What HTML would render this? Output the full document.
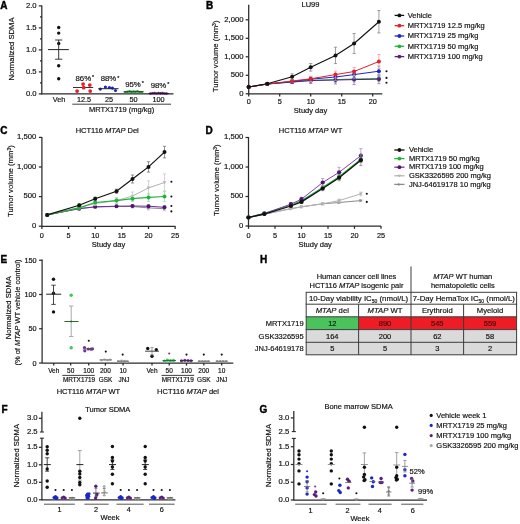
<!DOCTYPE html>
<html><head><meta charset="utf-8"><style>
html,body{margin:0;padding:0;background:#fff;}
body{width:520px;height:524px;overflow:hidden;}
svg{display:block;font-family:"Liberation Sans", Arial, Helvetica, sans-serif;}
text{stroke:#111;stroke-width:0.18px;}
</style></head><body>
<svg width="520" height="524" viewBox="0 0 520 524" fill="#121212">
<rect width="520" height="524" fill="#fff"/>
<text x="0.30" y="8.70" font-size="10" font-weight="bold" style="stroke:#000;stroke-width:0.4px" fill="#000">A</text>
<line x1="41.80" y1="5.40" x2="41.80" y2="94.40" stroke="#2a2a2a" stroke-width="1.25"/>
<line x1="38.80" y1="93.90" x2="41.80" y2="93.90" stroke="#2a2a2a" stroke-width="1.25"/>
<text x="36.60" y="95.77" font-size="7.7" text-anchor="end">0.0</text>
<line x1="38.80" y1="71.90" x2="41.80" y2="71.90" stroke="#2a2a2a" stroke-width="1.25"/>
<text x="36.60" y="73.77" font-size="7.7" text-anchor="end">0.5</text>
<line x1="38.80" y1="49.90" x2="41.80" y2="49.90" stroke="#2a2a2a" stroke-width="1.25"/>
<text x="36.60" y="51.77" font-size="7.7" text-anchor="end">1.0</text>
<line x1="38.80" y1="27.90" x2="41.80" y2="27.90" stroke="#2a2a2a" stroke-width="1.25"/>
<text x="36.60" y="29.77" font-size="7.7" text-anchor="end">1.5</text>
<line x1="38.80" y1="5.90" x2="41.80" y2="5.90" stroke="#2a2a2a" stroke-width="1.25"/>
<text x="36.60" y="7.77" font-size="7.7" text-anchor="end">2.0</text>
<line x1="40.00" y1="82.90" x2="41.80" y2="82.90" stroke="#2a2a2a" stroke-width="1.25"/>
<line x1="40.00" y1="60.90" x2="41.80" y2="60.90" stroke="#2a2a2a" stroke-width="1.25"/>
<line x1="40.00" y1="38.90" x2="41.80" y2="38.90" stroke="#2a2a2a" stroke-width="1.25"/>
<line x1="40.00" y1="16.90" x2="41.80" y2="16.90" stroke="#2a2a2a" stroke-width="1.25"/>
<text x="0" y="0" font-size="7.7" text-anchor="middle" transform="translate(11.20,49.00) rotate(-90) translate(0,2.32)">Normalized SDMA</text>
<line x1="41.80" y1="93.90" x2="173.50" y2="93.90" stroke="#2a2a2a" stroke-width="1.25"/>
<text x="59.00" y="102.48" font-size="7.3" text-anchor="middle">Veh</text>
<text x="84.00" y="102.48" font-size="7.3" text-anchor="middle">12.5</text>
<text x="109.00" y="102.48" font-size="7.3" text-anchor="middle">25</text>
<text x="133.50" y="102.48" font-size="7.3" text-anchor="middle">50</text>
<text x="158.50" y="102.48" font-size="7.3" text-anchor="middle">100</text>
<line x1="72.30" y1="104.20" x2="171.00" y2="104.20" stroke="#2a2a2a" stroke-width="0.9"/>
<text x="121.60" y="112.25" font-size="7.5" text-anchor="middle">MRTX1719 (mg/kg)</text>
<circle cx="58.70" cy="27.50" r="1.7" fill="#111111"/>
<circle cx="58.70" cy="33.10" r="1.7" fill="#111111"/>
<circle cx="58.70" cy="43.50" r="1.7" fill="#111111"/>
<circle cx="58.70" cy="65.80" r="1.7" fill="#111111"/>
<circle cx="58.70" cy="78.80" r="1.7" fill="#111111"/>
<line x1="48.00" y1="49.60" x2="68.80" y2="49.60" stroke="#222" stroke-width="1.0"/>
<line x1="58.70" y1="40.00" x2="58.70" y2="59.20" stroke="#222" stroke-width="0.9"/>
<line x1="55.10" y1="40.00" x2="62.30" y2="40.00" stroke="#222" stroke-width="0.9"/>
<line x1="55.10" y1="59.20" x2="62.30" y2="59.20" stroke="#222" stroke-width="0.9"/>
<line x1="73.00" y1="87.50" x2="93.20" y2="87.50" stroke="#333" stroke-width="1.0"/>
<circle cx="77.10" cy="91.10" r="1.9" fill="#e3202b"/>
<circle cx="83.10" cy="84.10" r="1.9" fill="#e3202b"/>
<circle cx="83.70" cy="87.70" r="1.9" fill="#e3202b"/>
<circle cx="89.80" cy="85.10" r="1.9" fill="#e3202b"/>
<circle cx="90.20" cy="91.10" r="1.9" fill="#e3202b"/>
<circle cx="100.30" cy="89.10" r="1.6" fill="#1a26cc"/>
<circle cx="105.40" cy="87.10" r="1.6" fill="#1a26cc"/>
<circle cx="109.40" cy="87.50" r="1.6" fill="#1a26cc"/>
<circle cx="112.40" cy="88.10" r="1.6" fill="#1a26cc"/>
<circle cx="115.50" cy="90.50" r="1.6" fill="#1a26cc"/>
<line x1="98.30" y1="88.70" x2="118.50" y2="88.70" stroke="#223" stroke-width="1.0"/>
<circle cx="125.50" cy="92.30" r="1.3" fill="#22b23c"/>
<circle cx="127.50" cy="91.80" r="1.3" fill="#22b23c"/>
<circle cx="129.50" cy="91.20" r="1.3" fill="#22b23c"/>
<circle cx="131.50" cy="91.90" r="1.3" fill="#22b23c"/>
<circle cx="133.50" cy="91.50" r="1.3" fill="#22b23c"/>
<circle cx="135.50" cy="91.80" r="1.3" fill="#22b23c"/>
<circle cx="137.50" cy="91.30" r="1.3" fill="#22b23c"/>
<circle cx="139.50" cy="92.00" r="1.3" fill="#22b23c"/>
<circle cx="141.50" cy="92.20" r="1.3" fill="#22b23c"/>
<line x1="123.50" y1="91.80" x2="143.70" y2="91.80" stroke="#232" stroke-width="1.0"/>
<circle cx="150.50" cy="93.60" r="1.3" fill="#5a1f7e"/>
<circle cx="152.50" cy="93.30" r="1.3" fill="#5a1f7e"/>
<circle cx="154.50" cy="93.10" r="1.3" fill="#5a1f7e"/>
<circle cx="156.50" cy="93.50" r="1.3" fill="#5a1f7e"/>
<circle cx="158.50" cy="93.00" r="1.3" fill="#5a1f7e"/>
<circle cx="160.50" cy="93.40" r="1.3" fill="#5a1f7e"/>
<circle cx="162.50" cy="93.10" r="1.3" fill="#5a1f7e"/>
<circle cx="164.50" cy="93.50" r="1.3" fill="#5a1f7e"/>
<circle cx="166.50" cy="93.60" r="1.3" fill="#5a1f7e"/>
<line x1="148.50" y1="93.50" x2="169.00" y2="93.50" stroke="#312" stroke-width="1.0"/>
<text x="84.80" y="80.56" font-size="7.8" text-anchor="middle">86%<tspan font-size="5.5" dx="0.9" dy="-1.6">*</tspan></text>
<text x="110.00" y="81.36" font-size="7.8" text-anchor="middle">88%<tspan font-size="5.5" dx="0.9" dy="-1.6">*</tspan></text>
<text x="134.50" y="86.56" font-size="7.8" text-anchor="middle">95%<tspan font-size="5.5" dx="0.9" dy="-1.6">*</tspan></text>
<text x="160.00" y="87.96" font-size="7.8" text-anchor="middle">98%<tspan font-size="5.5" dx="0.9" dy="-1.6">*</tspan></text>
<text x="206.00" y="8.70" font-size="10" font-weight="bold" style="stroke:#000;stroke-width:0.4px" fill="#000">B</text>
<line x1="248.70" y1="4.80" x2="248.70" y2="94.30" stroke="#2a2a2a" stroke-width="1.25"/>
<line x1="245.70" y1="93.80" x2="248.70" y2="93.80" stroke="#2a2a2a" stroke-width="1.25"/>
<text x="243.50" y="95.67" font-size="7.7" text-anchor="end">0</text>
<line x1="245.70" y1="75.30" x2="248.70" y2="75.30" stroke="#2a2a2a" stroke-width="1.25"/>
<text x="243.50" y="77.17" font-size="7.7" text-anchor="end">500</text>
<line x1="245.70" y1="56.80" x2="248.70" y2="56.80" stroke="#2a2a2a" stroke-width="1.25"/>
<text x="243.50" y="58.67" font-size="7.7" text-anchor="end">1,000</text>
<line x1="245.70" y1="38.30" x2="248.70" y2="38.30" stroke="#2a2a2a" stroke-width="1.25"/>
<text x="243.50" y="40.17" font-size="7.7" text-anchor="end">1,500</text>
<line x1="245.70" y1="19.80" x2="248.70" y2="19.80" stroke="#2a2a2a" stroke-width="1.25"/>
<text x="243.50" y="21.67" font-size="7.7" text-anchor="end">2,000</text>
<text x="0" y="0" font-size="7.7" text-anchor="middle" transform="translate(216.10,56.40) rotate(-90) translate(0,2.32)">Tumor volume (mm<tspan font-size="5" dy="-2.5">3</tspan><tspan dy="2.5">)</tspan></text>
<line x1="248.70" y1="93.80" x2="382.30" y2="93.80" stroke="#2a2a2a" stroke-width="1.25"/>
<line x1="248.70" y1="93.80" x2="248.70" y2="96.60" stroke="#2a2a2a" stroke-width="1.25"/>
<text x="248.70" y="103.88" font-size="7.3" text-anchor="middle">0</text>
<line x1="279.70" y1="93.80" x2="279.70" y2="96.60" stroke="#2a2a2a" stroke-width="1.25"/>
<text x="279.70" y="103.88" font-size="7.3" text-anchor="middle">5</text>
<line x1="310.70" y1="93.80" x2="310.70" y2="96.60" stroke="#2a2a2a" stroke-width="1.25"/>
<text x="310.70" y="103.88" font-size="7.3" text-anchor="middle">10</text>
<line x1="341.70" y1="93.80" x2="341.70" y2="96.60" stroke="#2a2a2a" stroke-width="1.25"/>
<text x="341.70" y="103.88" font-size="7.3" text-anchor="middle">15</text>
<line x1="372.70" y1="93.80" x2="372.70" y2="96.60" stroke="#2a2a2a" stroke-width="1.25"/>
<text x="372.70" y="103.88" font-size="7.3" text-anchor="middle">20</text>
<text x="310.50" y="112.55" font-size="7.5" text-anchor="middle">Study day</text>
<text x="310.50" y="6.65" font-size="7.5" text-anchor="middle">LU99</text>
<line x1="292.10" y1="80.50" x2="292.10" y2="83.50" stroke="#8ac08a" stroke-width="0.8"/>
<line x1="290.50" y1="80.50" x2="293.70" y2="80.50" stroke="#8ac08a" stroke-width="0.8"/>
<line x1="290.50" y1="83.50" x2="293.70" y2="83.50" stroke="#8ac08a" stroke-width="0.8"/>
<line x1="310.70" y1="78.00" x2="310.70" y2="83.00" stroke="#8ac08a" stroke-width="0.8"/>
<line x1="309.10" y1="78.00" x2="312.30" y2="78.00" stroke="#8ac08a" stroke-width="0.8"/>
<line x1="309.10" y1="83.00" x2="312.30" y2="83.00" stroke="#8ac08a" stroke-width="0.8"/>
<line x1="335.50" y1="76.60" x2="335.50" y2="82.60" stroke="#8ac08a" stroke-width="0.8"/>
<line x1="333.90" y1="76.60" x2="337.10" y2="76.60" stroke="#8ac08a" stroke-width="0.8"/>
<line x1="333.90" y1="82.60" x2="337.10" y2="82.60" stroke="#8ac08a" stroke-width="0.8"/>
<line x1="354.10" y1="76.00" x2="354.10" y2="82.00" stroke="#8ac08a" stroke-width="0.8"/>
<line x1="352.50" y1="76.00" x2="355.70" y2="76.00" stroke="#8ac08a" stroke-width="0.8"/>
<line x1="352.50" y1="82.00" x2="355.70" y2="82.00" stroke="#8ac08a" stroke-width="0.8"/>
<line x1="378.90" y1="75.50" x2="378.90" y2="81.50" stroke="#8ac08a" stroke-width="0.8"/>
<line x1="377.30" y1="75.50" x2="380.50" y2="75.50" stroke="#8ac08a" stroke-width="0.8"/>
<line x1="377.30" y1="81.50" x2="380.50" y2="81.50" stroke="#8ac08a" stroke-width="0.8"/>
<polyline points="248.70,87.00 267.30,84.00 292.10,82.00 310.70,80.50 335.50,79.60 354.10,79.00 378.90,78.50" fill="none" stroke="#22b23c" stroke-width="1.0"/>
<circle cx="248.70" cy="87.00" r="2.0" fill="#22b23c"/>
<circle cx="267.30" cy="84.00" r="2.0" fill="#22b23c"/>
<circle cx="292.10" cy="82.00" r="2.0" fill="#22b23c"/>
<circle cx="310.70" cy="80.50" r="2.0" fill="#22b23c"/>
<circle cx="335.50" cy="79.60" r="2.0" fill="#22b23c"/>
<circle cx="354.10" cy="79.00" r="2.0" fill="#22b23c"/>
<circle cx="378.90" cy="78.50" r="2.0" fill="#22b23c"/>
<line x1="292.10" y1="80.50" x2="292.10" y2="83.50" stroke="#9a7aaa" stroke-width="0.8"/>
<line x1="290.50" y1="80.50" x2="293.70" y2="80.50" stroke="#9a7aaa" stroke-width="0.8"/>
<line x1="290.50" y1="83.50" x2="293.70" y2="83.50" stroke="#9a7aaa" stroke-width="0.8"/>
<line x1="310.70" y1="77.50" x2="310.70" y2="83.50" stroke="#9a7aaa" stroke-width="0.8"/>
<line x1="309.10" y1="77.50" x2="312.30" y2="77.50" stroke="#9a7aaa" stroke-width="0.8"/>
<line x1="309.10" y1="83.50" x2="312.30" y2="83.50" stroke="#9a7aaa" stroke-width="0.8"/>
<line x1="335.50" y1="76.00" x2="335.50" y2="84.00" stroke="#9a7aaa" stroke-width="0.8"/>
<line x1="333.90" y1="76.00" x2="337.10" y2="76.00" stroke="#9a7aaa" stroke-width="0.8"/>
<line x1="333.90" y1="84.00" x2="337.10" y2="84.00" stroke="#9a7aaa" stroke-width="0.8"/>
<line x1="354.10" y1="74.60" x2="354.10" y2="84.60" stroke="#9a7aaa" stroke-width="0.8"/>
<line x1="352.50" y1="74.60" x2="355.70" y2="74.60" stroke="#9a7aaa" stroke-width="0.8"/>
<line x1="352.50" y1="84.60" x2="355.70" y2="84.60" stroke="#9a7aaa" stroke-width="0.8"/>
<line x1="378.90" y1="74.70" x2="378.90" y2="83.70" stroke="#9a7aaa" stroke-width="0.8"/>
<line x1="377.30" y1="74.70" x2="380.50" y2="74.70" stroke="#9a7aaa" stroke-width="0.8"/>
<line x1="377.30" y1="83.70" x2="380.50" y2="83.70" stroke="#9a7aaa" stroke-width="0.8"/>
<polyline points="248.70,87.00 267.30,84.00 292.10,82.00 310.70,80.50 335.50,80.00 354.10,79.60 378.90,79.20" fill="none" stroke="#5a1f7e" stroke-width="1.0"/>
<circle cx="248.70" cy="87.00" r="2.0" fill="#5a1f7e"/>
<circle cx="267.30" cy="84.00" r="2.0" fill="#5a1f7e"/>
<circle cx="292.10" cy="82.00" r="2.0" fill="#5a1f7e"/>
<circle cx="310.70" cy="80.50" r="2.0" fill="#5a1f7e"/>
<circle cx="335.50" cy="80.00" r="2.0" fill="#5a1f7e"/>
<circle cx="354.10" cy="79.60" r="2.0" fill="#5a1f7e"/>
<circle cx="378.90" cy="79.20" r="2.0" fill="#5a1f7e"/>
<line x1="292.10" y1="80.00" x2="292.10" y2="83.00" stroke="#8a8ae0" stroke-width="0.8"/>
<line x1="290.50" y1="80.00" x2="293.70" y2="80.00" stroke="#8a8ae0" stroke-width="0.8"/>
<line x1="290.50" y1="83.00" x2="293.70" y2="83.00" stroke="#8a8ae0" stroke-width="0.8"/>
<line x1="310.70" y1="76.70" x2="310.70" y2="81.70" stroke="#8a8ae0" stroke-width="0.8"/>
<line x1="309.10" y1="76.70" x2="312.30" y2="76.70" stroke="#8a8ae0" stroke-width="0.8"/>
<line x1="309.10" y1="81.70" x2="312.30" y2="81.70" stroke="#8a8ae0" stroke-width="0.8"/>
<line x1="335.50" y1="73.50" x2="335.50" y2="80.50" stroke="#8a8ae0" stroke-width="0.8"/>
<line x1="333.90" y1="73.50" x2="337.10" y2="73.50" stroke="#8a8ae0" stroke-width="0.8"/>
<line x1="333.90" y1="80.50" x2="337.10" y2="80.50" stroke="#8a8ae0" stroke-width="0.8"/>
<line x1="354.10" y1="70.60" x2="354.10" y2="78.60" stroke="#8a8ae0" stroke-width="0.8"/>
<line x1="352.50" y1="70.60" x2="355.70" y2="70.60" stroke="#8a8ae0" stroke-width="0.8"/>
<line x1="352.50" y1="78.60" x2="355.70" y2="78.60" stroke="#8a8ae0" stroke-width="0.8"/>
<line x1="378.90" y1="66.20" x2="378.90" y2="76.20" stroke="#8a8ae0" stroke-width="0.8"/>
<line x1="377.30" y1="66.20" x2="380.50" y2="66.20" stroke="#8a8ae0" stroke-width="0.8"/>
<line x1="377.30" y1="76.20" x2="380.50" y2="76.20" stroke="#8a8ae0" stroke-width="0.8"/>
<polyline points="248.70,87.00 267.30,84.00 292.10,81.50 310.70,79.20 335.50,77.00 354.10,74.60 378.90,71.20" fill="none" stroke="#1a26cc" stroke-width="1.0"/>
<circle cx="248.70" cy="87.00" r="2.0" fill="#1a26cc"/>
<circle cx="267.30" cy="84.00" r="2.0" fill="#1a26cc"/>
<circle cx="292.10" cy="81.50" r="2.0" fill="#1a26cc"/>
<circle cx="310.70" cy="79.20" r="2.0" fill="#1a26cc"/>
<circle cx="335.50" cy="77.00" r="2.0" fill="#1a26cc"/>
<circle cx="354.10" cy="74.60" r="2.0" fill="#1a26cc"/>
<circle cx="378.90" cy="71.20" r="2.0" fill="#1a26cc"/>
<line x1="292.10" y1="79.50" x2="292.10" y2="82.50" stroke="#f0a0a0" stroke-width="0.8"/>
<line x1="290.50" y1="79.50" x2="293.70" y2="79.50" stroke="#f0a0a0" stroke-width="0.8"/>
<line x1="290.50" y1="82.50" x2="293.70" y2="82.50" stroke="#f0a0a0" stroke-width="0.8"/>
<line x1="310.70" y1="76.30" x2="310.70" y2="81.30" stroke="#f0a0a0" stroke-width="0.8"/>
<line x1="309.10" y1="76.30" x2="312.30" y2="76.30" stroke="#f0a0a0" stroke-width="0.8"/>
<line x1="309.10" y1="81.30" x2="312.30" y2="81.30" stroke="#f0a0a0" stroke-width="0.8"/>
<line x1="335.50" y1="71.10" x2="335.50" y2="78.10" stroke="#f0a0a0" stroke-width="0.8"/>
<line x1="333.90" y1="71.10" x2="337.10" y2="71.10" stroke="#f0a0a0" stroke-width="0.8"/>
<line x1="333.90" y1="78.10" x2="337.10" y2="78.10" stroke="#f0a0a0" stroke-width="0.8"/>
<line x1="354.10" y1="67.50" x2="354.10" y2="75.50" stroke="#f0a0a0" stroke-width="0.8"/>
<line x1="352.50" y1="67.50" x2="355.70" y2="67.50" stroke="#f0a0a0" stroke-width="0.8"/>
<line x1="352.50" y1="75.50" x2="355.70" y2="75.50" stroke="#f0a0a0" stroke-width="0.8"/>
<line x1="378.90" y1="54.50" x2="378.90" y2="68.50" stroke="#f0a0a0" stroke-width="0.8"/>
<line x1="377.30" y1="54.50" x2="380.50" y2="54.50" stroke="#f0a0a0" stroke-width="0.8"/>
<line x1="377.30" y1="68.50" x2="380.50" y2="68.50" stroke="#f0a0a0" stroke-width="0.8"/>
<polyline points="248.70,87.00 267.30,84.00 292.10,81.00 310.70,78.80 335.50,74.60 354.10,71.50 378.90,61.50" fill="none" stroke="#e3202b" stroke-width="1.0"/>
<circle cx="248.70" cy="87.00" r="2.0" fill="#e3202b"/>
<circle cx="267.30" cy="84.00" r="2.0" fill="#e3202b"/>
<circle cx="292.10" cy="81.00" r="2.0" fill="#e3202b"/>
<circle cx="310.70" cy="78.80" r="2.0" fill="#e3202b"/>
<circle cx="335.50" cy="74.60" r="2.0" fill="#e3202b"/>
<circle cx="354.10" cy="71.50" r="2.0" fill="#e3202b"/>
<circle cx="378.90" cy="61.50" r="2.0" fill="#e3202b"/>
<line x1="267.30" y1="82.80" x2="267.30" y2="84.80" stroke="#888888" stroke-width="0.8"/>
<line x1="265.70" y1="82.80" x2="268.90" y2="82.80" stroke="#888888" stroke-width="0.8"/>
<line x1="265.70" y1="84.80" x2="268.90" y2="84.80" stroke="#888888" stroke-width="0.8"/>
<line x1="292.10" y1="73.80" x2="292.10" y2="79.80" stroke="#888888" stroke-width="0.8"/>
<line x1="290.50" y1="73.80" x2="293.70" y2="73.80" stroke="#888888" stroke-width="0.8"/>
<line x1="290.50" y1="79.80" x2="293.70" y2="79.80" stroke="#888888" stroke-width="0.8"/>
<line x1="310.70" y1="63.50" x2="310.70" y2="71.10" stroke="#888888" stroke-width="0.8"/>
<line x1="309.10" y1="63.50" x2="312.30" y2="63.50" stroke="#888888" stroke-width="0.8"/>
<line x1="309.10" y1="71.10" x2="312.30" y2="71.10" stroke="#888888" stroke-width="0.8"/>
<line x1="335.50" y1="47.20" x2="335.50" y2="63.60" stroke="#888888" stroke-width="0.8"/>
<line x1="333.90" y1="47.20" x2="337.10" y2="47.20" stroke="#888888" stroke-width="0.8"/>
<line x1="333.90" y1="63.60" x2="337.10" y2="63.60" stroke="#888888" stroke-width="0.8"/>
<line x1="354.10" y1="33.50" x2="354.10" y2="53.50" stroke="#888888" stroke-width="0.8"/>
<line x1="352.50" y1="33.50" x2="355.70" y2="33.50" stroke="#888888" stroke-width="0.8"/>
<line x1="352.50" y1="53.50" x2="355.70" y2="53.50" stroke="#888888" stroke-width="0.8"/>
<line x1="378.90" y1="10.50" x2="378.90" y2="32.90" stroke="#888888" stroke-width="0.8"/>
<line x1="377.30" y1="10.50" x2="380.50" y2="10.50" stroke="#888888" stroke-width="0.8"/>
<line x1="377.30" y1="32.90" x2="380.50" y2="32.90" stroke="#888888" stroke-width="0.8"/>
<polyline points="248.70,87.00 267.30,83.80 292.10,76.80 310.70,67.30 335.50,55.40 354.10,43.50 378.90,21.70" fill="none" stroke="#111111" stroke-width="1.15"/>
<circle cx="248.70" cy="87.00" r="2.0" fill="#111111"/>
<circle cx="267.30" cy="83.80" r="2.0" fill="#111111"/>
<circle cx="292.10" cy="76.80" r="2.0" fill="#111111"/>
<circle cx="310.70" cy="67.30" r="2.0" fill="#111111"/>
<circle cx="335.50" cy="55.40" r="2.0" fill="#111111"/>
<circle cx="354.10" cy="43.50" r="2.0" fill="#111111"/>
<circle cx="378.90" cy="21.70" r="2.0" fill="#111111"/>
<circle cx="386.50" cy="71.20" r="1.05" fill="#111"/>
<circle cx="386.50" cy="77.90" r="1.05" fill="#111"/>
<circle cx="386.50" cy="82.70" r="1.05" fill="#111"/>
<line x1="394.60" y1="15.40" x2="404.20" y2="15.40" stroke="#111111" stroke-width="1.3"/>
<circle cx="399.40" cy="15.40" r="1.9" fill="#111111"/>
<text x="407.70" y="17.65" font-size="7.5">Vehicle</text>
<line x1="394.60" y1="25.70" x2="404.20" y2="25.70" stroke="#e3202b" stroke-width="1.3"/>
<circle cx="399.40" cy="25.70" r="1.9" fill="#e3202b"/>
<text x="407.70" y="27.95" font-size="7.5">MRTX1719 12.5 mg/kg</text>
<line x1="394.60" y1="36.00" x2="404.20" y2="36.00" stroke="#1a26cc" stroke-width="1.3"/>
<circle cx="399.40" cy="36.00" r="1.9" fill="#1a26cc"/>
<text x="407.70" y="38.25" font-size="7.5">MRTX1719 25 mg/kg</text>
<line x1="394.60" y1="46.30" x2="404.20" y2="46.30" stroke="#22b23c" stroke-width="1.3"/>
<circle cx="399.40" cy="46.30" r="1.9" fill="#22b23c"/>
<text x="407.70" y="48.55" font-size="7.5">MRTX1719 50 mg/kg</text>
<line x1="394.60" y1="56.60" x2="404.20" y2="56.60" stroke="#5a1f7e" stroke-width="1.3"/>
<circle cx="399.40" cy="56.60" r="1.9" fill="#5a1f7e"/>
<text x="407.70" y="58.85" font-size="7.5">MRTX1719 100 mg/kg</text>
<text x="0.30" y="134.20" font-size="10" font-weight="bold" style="stroke:#000;stroke-width:0.4px" fill="#000">C</text>
<line x1="41.90" y1="137.00" x2="41.90" y2="226.70" stroke="#2a2a2a" stroke-width="1.25"/>
<line x1="38.90" y1="226.20" x2="41.90" y2="226.20" stroke="#2a2a2a" stroke-width="1.25"/>
<text x="36.30" y="228.07" font-size="7.7" text-anchor="end">0</text>
<line x1="38.90" y1="196.60" x2="41.90" y2="196.60" stroke="#2a2a2a" stroke-width="1.25"/>
<text x="36.30" y="198.47" font-size="7.7" text-anchor="end">500</text>
<line x1="38.90" y1="167.00" x2="41.90" y2="167.00" stroke="#2a2a2a" stroke-width="1.25"/>
<text x="36.30" y="168.87" font-size="7.7" text-anchor="end">1,000</text>
<line x1="38.90" y1="137.40" x2="41.90" y2="137.40" stroke="#2a2a2a" stroke-width="1.25"/>
<text x="36.30" y="139.27" font-size="7.7" text-anchor="end">1,500</text>
<text x="0" y="0" font-size="7.7" text-anchor="middle" transform="translate(11.00,181.10) rotate(-90) translate(0,2.32)">Tumor volume (mm<tspan font-size="5" dy="-2.5">3</tspan><tspan dy="2.5">)</tspan></text>
<line x1="41.90" y1="226.25" x2="175.40" y2="226.25" stroke="#2a2a2a" stroke-width="1.25"/>
<line x1="41.90" y1="226.20" x2="41.90" y2="229.00" stroke="#2a2a2a" stroke-width="1.25"/>
<text x="41.90" y="237.98" font-size="7.3" text-anchor="middle">0</text>
<line x1="68.55" y1="226.20" x2="68.55" y2="229.00" stroke="#2a2a2a" stroke-width="1.25"/>
<text x="68.55" y="237.98" font-size="7.3" text-anchor="middle">5</text>
<line x1="95.20" y1="226.20" x2="95.20" y2="229.00" stroke="#2a2a2a" stroke-width="1.25"/>
<text x="95.20" y="237.98" font-size="7.3" text-anchor="middle">10</text>
<line x1="121.85" y1="226.20" x2="121.85" y2="229.00" stroke="#2a2a2a" stroke-width="1.25"/>
<text x="121.85" y="237.98" font-size="7.3" text-anchor="middle">15</text>
<line x1="148.50" y1="226.20" x2="148.50" y2="229.00" stroke="#2a2a2a" stroke-width="1.25"/>
<text x="148.50" y="237.98" font-size="7.3" text-anchor="middle">20</text>
<line x1="175.15" y1="226.20" x2="175.15" y2="229.00" stroke="#2a2a2a" stroke-width="1.25"/>
<text x="175.15" y="237.98" font-size="7.3" text-anchor="middle">25</text>
<text x="108.50" y="247.45" font-size="7.5" text-anchor="middle">Study day</text>
<text x="107.20" y="133.45" font-size="7.5" text-anchor="middle">HCT116 <tspan font-style="italic">MTAP</tspan> Del</text>
<line x1="79.21" y1="207.50" x2="79.21" y2="209.50" stroke="#bbbbbb" stroke-width="0.8"/>
<line x1="77.61" y1="207.50" x2="80.81" y2="207.50" stroke="#bbbbbb" stroke-width="0.8"/>
<line x1="77.61" y1="209.50" x2="80.81" y2="209.50" stroke="#bbbbbb" stroke-width="0.8"/>
<line x1="95.20" y1="206.00" x2="95.20" y2="208.00" stroke="#bbbbbb" stroke-width="0.8"/>
<line x1="93.60" y1="206.00" x2="96.80" y2="206.00" stroke="#bbbbbb" stroke-width="0.8"/>
<line x1="93.60" y1="208.00" x2="96.80" y2="208.00" stroke="#bbbbbb" stroke-width="0.8"/>
<line x1="116.52" y1="205.50" x2="116.52" y2="207.50" stroke="#bbbbbb" stroke-width="0.8"/>
<line x1="114.92" y1="205.50" x2="118.12" y2="205.50" stroke="#bbbbbb" stroke-width="0.8"/>
<line x1="114.92" y1="207.50" x2="118.12" y2="207.50" stroke="#bbbbbb" stroke-width="0.8"/>
<line x1="132.51" y1="205.00" x2="132.51" y2="208.00" stroke="#bbbbbb" stroke-width="0.8"/>
<line x1="130.91" y1="205.00" x2="134.11" y2="205.00" stroke="#bbbbbb" stroke-width="0.8"/>
<line x1="130.91" y1="208.00" x2="134.11" y2="208.00" stroke="#bbbbbb" stroke-width="0.8"/>
<line x1="148.50" y1="205.90" x2="148.50" y2="209.90" stroke="#bbbbbb" stroke-width="0.8"/>
<line x1="146.90" y1="205.90" x2="150.10" y2="205.90" stroke="#bbbbbb" stroke-width="0.8"/>
<line x1="146.90" y1="209.90" x2="150.10" y2="209.90" stroke="#bbbbbb" stroke-width="0.8"/>
<line x1="164.49" y1="206.70" x2="164.49" y2="210.70" stroke="#bbbbbb" stroke-width="0.8"/>
<line x1="162.89" y1="206.70" x2="166.09" y2="206.70" stroke="#bbbbbb" stroke-width="0.8"/>
<line x1="162.89" y1="210.70" x2="166.09" y2="210.70" stroke="#bbbbbb" stroke-width="0.8"/>
<polyline points="47.23,214.90 79.21,208.50 95.20,207.00 116.52,206.50 132.51,206.50 148.50,207.90 164.49,208.70" fill="none" stroke="#8a8a8a" stroke-width="1.0"/>
<path d="M45.87,213.20 L48.93,214.90 L45.87,216.60 Z" fill="#8a8a8a"/>
<path d="M77.85,206.80 L80.91,208.50 L77.85,210.20 Z" fill="#8a8a8a"/>
<path d="M93.84,205.30 L96.90,207.00 L93.84,208.70 Z" fill="#8a8a8a"/>
<path d="M115.16,204.80 L118.22,206.50 L115.16,208.20 Z" fill="#8a8a8a"/>
<path d="M131.15,204.80 L134.21,206.50 L131.15,208.20 Z" fill="#8a8a8a"/>
<path d="M147.14,206.20 L150.20,207.90 L147.14,209.60 Z" fill="#8a8a8a"/>
<path d="M163.13,207.00 L166.19,208.70 L163.13,210.40 Z" fill="#8a8a8a"/>
<line x1="79.21" y1="207.70" x2="79.21" y2="209.70" stroke="#b090c0" stroke-width="0.8"/>
<line x1="77.61" y1="207.70" x2="80.81" y2="207.70" stroke="#b090c0" stroke-width="0.8"/>
<line x1="77.61" y1="209.70" x2="80.81" y2="209.70" stroke="#b090c0" stroke-width="0.8"/>
<line x1="95.20" y1="205.80" x2="95.20" y2="207.80" stroke="#b090c0" stroke-width="0.8"/>
<line x1="93.60" y1="205.80" x2="96.80" y2="205.80" stroke="#b090c0" stroke-width="0.8"/>
<line x1="93.60" y1="207.80" x2="96.80" y2="207.80" stroke="#b090c0" stroke-width="0.8"/>
<line x1="116.52" y1="205.20" x2="116.52" y2="207.20" stroke="#b090c0" stroke-width="0.8"/>
<line x1="114.92" y1="205.20" x2="118.12" y2="205.20" stroke="#b090c0" stroke-width="0.8"/>
<line x1="114.92" y1="207.20" x2="118.12" y2="207.20" stroke="#b090c0" stroke-width="0.8"/>
<line x1="132.51" y1="204.80" x2="132.51" y2="207.20" stroke="#b090c0" stroke-width="0.8"/>
<line x1="130.91" y1="204.80" x2="134.11" y2="204.80" stroke="#b090c0" stroke-width="0.8"/>
<line x1="130.91" y1="207.20" x2="134.11" y2="207.20" stroke="#b090c0" stroke-width="0.8"/>
<line x1="148.50" y1="204.70" x2="148.50" y2="207.70" stroke="#b090c0" stroke-width="0.8"/>
<line x1="146.90" y1="204.70" x2="150.10" y2="204.70" stroke="#b090c0" stroke-width="0.8"/>
<line x1="146.90" y1="207.70" x2="150.10" y2="207.70" stroke="#b090c0" stroke-width="0.8"/>
<line x1="164.49" y1="205.80" x2="164.49" y2="208.80" stroke="#b090c0" stroke-width="0.8"/>
<line x1="162.89" y1="205.80" x2="166.09" y2="205.80" stroke="#b090c0" stroke-width="0.8"/>
<line x1="162.89" y1="208.80" x2="166.09" y2="208.80" stroke="#b090c0" stroke-width="0.8"/>
<polyline points="47.23,214.90 79.21,208.70 95.20,206.80 116.52,206.20 132.51,206.00 148.50,206.20 164.49,207.30" fill="none" stroke="#7428a0" stroke-width="1.0"/>
<circle cx="47.23" cy="214.90" r="2.0" fill="#4e1470"/>
<circle cx="79.21" cy="208.70" r="2.0" fill="#4e1470"/>
<circle cx="95.20" cy="206.80" r="2.0" fill="#4e1470"/>
<circle cx="116.52" cy="206.20" r="2.0" fill="#4e1470"/>
<circle cx="132.51" cy="206.00" r="2.0" fill="#4e1470"/>
<circle cx="148.50" cy="206.20" r="2.0" fill="#4e1470"/>
<circle cx="164.49" cy="207.30" r="2.0" fill="#4e1470"/>
<line x1="79.21" y1="206.50" x2="79.21" y2="208.50" stroke="#cccccc" stroke-width="0.8"/>
<line x1="77.61" y1="206.50" x2="80.81" y2="206.50" stroke="#cccccc" stroke-width="0.8"/>
<line x1="77.61" y1="208.50" x2="80.81" y2="208.50" stroke="#cccccc" stroke-width="0.8"/>
<line x1="95.20" y1="201.50" x2="95.20" y2="205.50" stroke="#cccccc" stroke-width="0.8"/>
<line x1="93.60" y1="201.50" x2="96.80" y2="201.50" stroke="#cccccc" stroke-width="0.8"/>
<line x1="93.60" y1="205.50" x2="96.80" y2="205.50" stroke="#cccccc" stroke-width="0.8"/>
<line x1="116.52" y1="197.60" x2="116.52" y2="203.60" stroke="#cccccc" stroke-width="0.8"/>
<line x1="114.92" y1="197.60" x2="118.12" y2="197.60" stroke="#cccccc" stroke-width="0.8"/>
<line x1="114.92" y1="203.60" x2="118.12" y2="203.60" stroke="#cccccc" stroke-width="0.8"/>
<line x1="132.51" y1="192.00" x2="132.51" y2="200.00" stroke="#cccccc" stroke-width="0.8"/>
<line x1="130.91" y1="192.00" x2="134.11" y2="192.00" stroke="#cccccc" stroke-width="0.8"/>
<line x1="130.91" y1="200.00" x2="134.11" y2="200.00" stroke="#cccccc" stroke-width="0.8"/>
<line x1="148.50" y1="180.90" x2="148.50" y2="194.90" stroke="#cccccc" stroke-width="0.8"/>
<line x1="146.90" y1="180.90" x2="150.10" y2="180.90" stroke="#cccccc" stroke-width="0.8"/>
<line x1="146.90" y1="194.90" x2="150.10" y2="194.90" stroke="#cccccc" stroke-width="0.8"/>
<line x1="164.49" y1="173.90" x2="164.49" y2="191.10" stroke="#cccccc" stroke-width="0.8"/>
<line x1="162.89" y1="173.90" x2="166.09" y2="173.90" stroke="#cccccc" stroke-width="0.8"/>
<line x1="162.89" y1="191.10" x2="166.09" y2="191.10" stroke="#cccccc" stroke-width="0.8"/>
<polyline points="47.23,214.90 79.21,207.50 95.20,203.50 116.52,200.60 132.51,196.00 148.50,187.90 164.49,182.50" fill="none" stroke="#b3b3b3" stroke-width="1.0"/>
<path d="M45.36,213.59 L49.10,213.59 L47.23,216.77 Z" fill="#b3b3b3"/>
<path d="M77.34,206.19 L81.08,206.19 L79.21,209.37 Z" fill="#b3b3b3"/>
<path d="M93.33,202.19 L97.07,202.19 L95.20,205.37 Z" fill="#b3b3b3"/>
<path d="M114.65,199.29 L118.39,199.29 L116.52,202.47 Z" fill="#b3b3b3"/>
<path d="M130.64,194.69 L134.38,194.69 L132.51,197.87 Z" fill="#b3b3b3"/>
<path d="M146.63,186.59 L150.37,186.59 L148.50,189.77 Z" fill="#b3b3b3"/>
<path d="M162.62,181.19 L166.36,181.19 L164.49,184.37 Z" fill="#b3b3b3"/>
<line x1="79.21" y1="206.90" x2="79.21" y2="208.90" stroke="#a0e0a0" stroke-width="0.8"/>
<line x1="77.61" y1="206.90" x2="80.81" y2="206.90" stroke="#a0e0a0" stroke-width="0.8"/>
<line x1="77.61" y1="208.90" x2="80.81" y2="208.90" stroke="#a0e0a0" stroke-width="0.8"/>
<line x1="95.20" y1="200.50" x2="95.20" y2="204.50" stroke="#a0e0a0" stroke-width="0.8"/>
<line x1="93.60" y1="200.50" x2="96.80" y2="200.50" stroke="#a0e0a0" stroke-width="0.8"/>
<line x1="93.60" y1="204.50" x2="96.80" y2="204.50" stroke="#a0e0a0" stroke-width="0.8"/>
<line x1="116.52" y1="198.10" x2="116.52" y2="203.10" stroke="#a0e0a0" stroke-width="0.8"/>
<line x1="114.92" y1="198.10" x2="118.12" y2="198.10" stroke="#a0e0a0" stroke-width="0.8"/>
<line x1="114.92" y1="203.10" x2="118.12" y2="203.10" stroke="#a0e0a0" stroke-width="0.8"/>
<line x1="132.51" y1="195.70" x2="132.51" y2="201.70" stroke="#a0e0a0" stroke-width="0.8"/>
<line x1="130.91" y1="195.70" x2="134.11" y2="195.70" stroke="#a0e0a0" stroke-width="0.8"/>
<line x1="130.91" y1="201.70" x2="134.11" y2="201.70" stroke="#a0e0a0" stroke-width="0.8"/>
<line x1="148.50" y1="193.40" x2="148.50" y2="201.40" stroke="#a0e0a0" stroke-width="0.8"/>
<line x1="146.90" y1="193.40" x2="150.10" y2="193.40" stroke="#a0e0a0" stroke-width="0.8"/>
<line x1="146.90" y1="201.40" x2="150.10" y2="201.40" stroke="#a0e0a0" stroke-width="0.8"/>
<line x1="164.49" y1="191.30" x2="164.49" y2="201.70" stroke="#a0e0a0" stroke-width="0.8"/>
<line x1="162.89" y1="191.30" x2="166.09" y2="191.30" stroke="#a0e0a0" stroke-width="0.8"/>
<line x1="162.89" y1="201.70" x2="166.09" y2="201.70" stroke="#a0e0a0" stroke-width="0.8"/>
<polyline points="47.23,214.90 79.21,207.90 95.20,202.50 116.52,200.60 132.51,198.70 148.50,197.40 164.49,196.50" fill="none" stroke="#22b23c" stroke-width="1.2"/>
<circle cx="47.23" cy="214.90" r="2.0" fill="#22b23c"/>
<circle cx="79.21" cy="207.90" r="2.0" fill="#22b23c"/>
<circle cx="95.20" cy="202.50" r="2.0" fill="#22b23c"/>
<circle cx="116.52" cy="200.60" r="2.0" fill="#22b23c"/>
<circle cx="132.51" cy="198.70" r="2.0" fill="#22b23c"/>
<circle cx="148.50" cy="197.40" r="2.0" fill="#22b23c"/>
<circle cx="164.49" cy="196.50" r="2.0" fill="#22b23c"/>
<line x1="79.21" y1="204.00" x2="79.21" y2="206.40" stroke="#777777" stroke-width="0.8"/>
<line x1="77.61" y1="204.00" x2="80.81" y2="204.00" stroke="#777777" stroke-width="0.8"/>
<line x1="77.61" y1="206.40" x2="80.81" y2="206.40" stroke="#777777" stroke-width="0.8"/>
<line x1="95.20" y1="197.20" x2="95.20" y2="200.20" stroke="#777777" stroke-width="0.8"/>
<line x1="93.60" y1="197.20" x2="96.80" y2="197.20" stroke="#777777" stroke-width="0.8"/>
<line x1="93.60" y1="200.20" x2="96.80" y2="200.20" stroke="#777777" stroke-width="0.8"/>
<line x1="116.52" y1="189.20" x2="116.52" y2="193.20" stroke="#777777" stroke-width="0.8"/>
<line x1="114.92" y1="189.20" x2="118.12" y2="189.20" stroke="#777777" stroke-width="0.8"/>
<line x1="114.92" y1="193.20" x2="118.12" y2="193.20" stroke="#777777" stroke-width="0.8"/>
<line x1="132.51" y1="175.00" x2="132.51" y2="183.00" stroke="#777777" stroke-width="0.8"/>
<line x1="130.91" y1="175.00" x2="134.11" y2="175.00" stroke="#777777" stroke-width="0.8"/>
<line x1="130.91" y1="183.00" x2="134.11" y2="183.00" stroke="#777777" stroke-width="0.8"/>
<line x1="148.50" y1="161.70" x2="148.50" y2="172.10" stroke="#777777" stroke-width="0.8"/>
<line x1="146.90" y1="161.70" x2="150.10" y2="161.70" stroke="#777777" stroke-width="0.8"/>
<line x1="146.90" y1="172.10" x2="150.10" y2="172.10" stroke="#777777" stroke-width="0.8"/>
<line x1="164.49" y1="146.30" x2="164.49" y2="157.90" stroke="#777777" stroke-width="0.8"/>
<line x1="162.89" y1="146.30" x2="166.09" y2="146.30" stroke="#777777" stroke-width="0.8"/>
<line x1="162.89" y1="157.90" x2="166.09" y2="157.90" stroke="#777777" stroke-width="0.8"/>
<polyline points="47.23,214.90 79.21,205.20 95.20,198.70 116.52,191.20 132.51,179.00 148.50,166.90 164.49,152.10" fill="none" stroke="#111111" stroke-width="1.2"/>
<circle cx="47.23" cy="214.90" r="2.0" fill="#111111"/>
<circle cx="79.21" cy="205.20" r="2.0" fill="#111111"/>
<circle cx="95.20" cy="198.70" r="2.0" fill="#111111"/>
<circle cx="116.52" cy="191.20" r="2.0" fill="#111111"/>
<circle cx="132.51" cy="179.00" r="2.0" fill="#111111"/>
<circle cx="148.50" cy="166.90" r="2.0" fill="#111111"/>
<circle cx="164.49" cy="152.10" r="2.0" fill="#111111"/>
<circle cx="171.40" cy="181.70" r="1.05" fill="#111"/>
<circle cx="171.40" cy="196.50" r="1.05" fill="#111"/>
<circle cx="171.40" cy="206.00" r="1.05" fill="#111"/>
<circle cx="171.40" cy="211.40" r="1.05" fill="#111"/>
<text x="205.40" y="134.40" font-size="10" font-weight="bold" style="stroke:#000;stroke-width:0.4px" fill="#000">D</text>
<line x1="248.50" y1="137.00" x2="248.50" y2="226.50" stroke="#2a2a2a" stroke-width="1.25"/>
<line x1="245.50" y1="226.00" x2="248.50" y2="226.00" stroke="#2a2a2a" stroke-width="1.25"/>
<text x="243.30" y="227.87" font-size="7.7" text-anchor="end">0</text>
<line x1="245.50" y1="196.50" x2="248.50" y2="196.50" stroke="#2a2a2a" stroke-width="1.25"/>
<text x="243.30" y="198.37" font-size="7.7" text-anchor="end">500</text>
<line x1="245.50" y1="167.00" x2="248.50" y2="167.00" stroke="#2a2a2a" stroke-width="1.25"/>
<text x="243.30" y="168.87" font-size="7.7" text-anchor="end">1,000</text>
<line x1="245.50" y1="137.50" x2="248.50" y2="137.50" stroke="#2a2a2a" stroke-width="1.25"/>
<text x="243.30" y="139.37" font-size="7.7" text-anchor="end">1,500</text>
<text x="0" y="0" font-size="7.7" text-anchor="middle" transform="translate(216.90,180.20) rotate(-90) translate(0,2.32)">Tumor volume (mm<tspan font-size="5" dy="-2.5">3</tspan><tspan dy="2.5">)</tspan></text>
<line x1="248.50" y1="226.00" x2="381.00" y2="226.00" stroke="#2a2a2a" stroke-width="1.25"/>
<line x1="248.50" y1="226.00" x2="248.50" y2="228.80" stroke="#2a2a2a" stroke-width="1.25"/>
<text x="248.50" y="237.78" font-size="7.3" text-anchor="middle">0</text>
<line x1="275.00" y1="226.00" x2="275.00" y2="228.80" stroke="#2a2a2a" stroke-width="1.25"/>
<text x="275.00" y="237.78" font-size="7.3" text-anchor="middle">5</text>
<line x1="301.50" y1="226.00" x2="301.50" y2="228.80" stroke="#2a2a2a" stroke-width="1.25"/>
<text x="301.50" y="237.78" font-size="7.3" text-anchor="middle">10</text>
<line x1="328.00" y1="226.00" x2="328.00" y2="228.80" stroke="#2a2a2a" stroke-width="1.25"/>
<text x="328.00" y="237.78" font-size="7.3" text-anchor="middle">15</text>
<line x1="354.50" y1="226.00" x2="354.50" y2="228.80" stroke="#2a2a2a" stroke-width="1.25"/>
<text x="354.50" y="237.78" font-size="7.3" text-anchor="middle">20</text>
<line x1="381.00" y1="226.00" x2="381.00" y2="228.80" stroke="#2a2a2a" stroke-width="1.25"/>
<text x="381.00" y="237.78" font-size="7.3" text-anchor="middle">25</text>
<text x="315.20" y="246.85" font-size="7.5" text-anchor="middle">Study day</text>
<text x="310.60" y="133.05" font-size="7.5" text-anchor="middle">HCT116 <tspan font-style="italic">MTAP</tspan> WT</text>
<line x1="290.90" y1="207.90" x2="290.90" y2="209.50" stroke="#bbbbbb" stroke-width="0.8"/>
<line x1="289.30" y1="207.90" x2="292.50" y2="207.90" stroke="#bbbbbb" stroke-width="0.8"/>
<line x1="289.30" y1="209.50" x2="292.50" y2="209.50" stroke="#bbbbbb" stroke-width="0.8"/>
<line x1="301.50" y1="206.00" x2="301.50" y2="207.60" stroke="#bbbbbb" stroke-width="0.8"/>
<line x1="299.90" y1="206.00" x2="303.10" y2="206.00" stroke="#bbbbbb" stroke-width="0.8"/>
<line x1="299.90" y1="207.60" x2="303.10" y2="207.60" stroke="#bbbbbb" stroke-width="0.8"/>
<line x1="322.70" y1="202.80" x2="322.70" y2="204.80" stroke="#bbbbbb" stroke-width="0.8"/>
<line x1="321.10" y1="202.80" x2="324.30" y2="202.80" stroke="#bbbbbb" stroke-width="0.8"/>
<line x1="321.10" y1="204.80" x2="324.30" y2="204.80" stroke="#bbbbbb" stroke-width="0.8"/>
<line x1="339.13" y1="201.50" x2="339.13" y2="203.50" stroke="#bbbbbb" stroke-width="0.8"/>
<line x1="337.53" y1="201.50" x2="340.73" y2="201.50" stroke="#bbbbbb" stroke-width="0.8"/>
<line x1="337.53" y1="203.50" x2="340.73" y2="203.50" stroke="#bbbbbb" stroke-width="0.8"/>
<line x1="360.86" y1="199.60" x2="360.86" y2="201.60" stroke="#bbbbbb" stroke-width="0.8"/>
<line x1="359.26" y1="199.60" x2="362.46" y2="199.60" stroke="#bbbbbb" stroke-width="0.8"/>
<line x1="359.26" y1="201.60" x2="362.46" y2="201.60" stroke="#bbbbbb" stroke-width="0.8"/>
<polyline points="248.50,217.50 264.40,214.20 290.90,208.70 301.50,206.80 322.70,203.80 339.13,202.50 360.86,200.60" fill="none" stroke="#8a8a8a" stroke-width="1.0"/>
<path d="M247.14,215.80 L250.20,217.50 L247.14,219.20 Z" fill="#8a8a8a"/>
<path d="M263.04,212.50 L266.10,214.20 L263.04,215.90 Z" fill="#8a8a8a"/>
<path d="M289.54,207.00 L292.60,208.70 L289.54,210.40 Z" fill="#8a8a8a"/>
<path d="M300.14,205.10 L303.20,206.80 L300.14,208.50 Z" fill="#8a8a8a"/>
<path d="M321.34,202.10 L324.40,203.80 L321.34,205.50 Z" fill="#8a8a8a"/>
<path d="M337.77,200.80 L340.83,202.50 L337.77,204.20 Z" fill="#8a8a8a"/>
<path d="M359.50,198.90 L362.56,200.60 L359.50,202.30 Z" fill="#8a8a8a"/>
<line x1="290.90" y1="207.90" x2="290.90" y2="209.50" stroke="#cccccc" stroke-width="0.8"/>
<line x1="289.30" y1="207.90" x2="292.50" y2="207.90" stroke="#cccccc" stroke-width="0.8"/>
<line x1="289.30" y1="209.50" x2="292.50" y2="209.50" stroke="#cccccc" stroke-width="0.8"/>
<line x1="301.50" y1="206.00" x2="301.50" y2="207.60" stroke="#cccccc" stroke-width="0.8"/>
<line x1="299.90" y1="206.00" x2="303.10" y2="206.00" stroke="#cccccc" stroke-width="0.8"/>
<line x1="299.90" y1="207.60" x2="303.10" y2="207.60" stroke="#cccccc" stroke-width="0.8"/>
<line x1="322.70" y1="202.80" x2="322.70" y2="204.80" stroke="#cccccc" stroke-width="0.8"/>
<line x1="321.10" y1="202.80" x2="324.30" y2="202.80" stroke="#cccccc" stroke-width="0.8"/>
<line x1="321.10" y1="204.80" x2="324.30" y2="204.80" stroke="#cccccc" stroke-width="0.8"/>
<line x1="339.13" y1="199.10" x2="339.13" y2="202.10" stroke="#cccccc" stroke-width="0.8"/>
<line x1="337.53" y1="199.10" x2="340.73" y2="199.10" stroke="#cccccc" stroke-width="0.8"/>
<line x1="337.53" y1="202.10" x2="340.73" y2="202.10" stroke="#cccccc" stroke-width="0.8"/>
<line x1="360.86" y1="192.00" x2="360.86" y2="195.60" stroke="#cccccc" stroke-width="0.8"/>
<line x1="359.26" y1="192.00" x2="362.46" y2="192.00" stroke="#cccccc" stroke-width="0.8"/>
<line x1="359.26" y1="195.60" x2="362.46" y2="195.60" stroke="#cccccc" stroke-width="0.8"/>
<polyline points="248.50,217.50 264.40,214.20 290.90,208.70 301.50,206.80 322.70,203.80 339.13,200.60 360.86,193.80" fill="none" stroke="#b3b3b3" stroke-width="1.0"/>
<path d="M246.63,216.19 L250.37,216.19 L248.50,219.37 Z" fill="#b3b3b3"/>
<path d="M262.53,212.89 L266.27,212.89 L264.40,216.07 Z" fill="#b3b3b3"/>
<path d="M289.03,207.39 L292.77,207.39 L290.90,210.57 Z" fill="#b3b3b3"/>
<path d="M299.63,205.49 L303.37,205.49 L301.50,208.67 Z" fill="#b3b3b3"/>
<path d="M320.83,202.49 L324.57,202.49 L322.70,205.67 Z" fill="#b3b3b3"/>
<path d="M337.26,199.29 L341.00,199.29 L339.13,202.47 Z" fill="#b3b3b3"/>
<path d="M358.99,192.49 L362.73,192.49 L360.86,195.67 Z" fill="#b3b3b3"/>
<line x1="264.40" y1="212.40" x2="264.40" y2="214.40" stroke="#90d090" stroke-width="0.8"/>
<line x1="262.80" y1="212.40" x2="266.00" y2="212.40" stroke="#90d090" stroke-width="0.8"/>
<line x1="262.80" y1="214.40" x2="266.00" y2="214.40" stroke="#90d090" stroke-width="0.8"/>
<line x1="290.90" y1="204.00" x2="290.90" y2="206.00" stroke="#90d090" stroke-width="0.8"/>
<line x1="289.30" y1="204.00" x2="292.50" y2="204.00" stroke="#90d090" stroke-width="0.8"/>
<line x1="289.30" y1="206.00" x2="292.50" y2="206.00" stroke="#90d090" stroke-width="0.8"/>
<line x1="301.50" y1="199.40" x2="301.50" y2="202.40" stroke="#90d090" stroke-width="0.8"/>
<line x1="299.90" y1="199.40" x2="303.10" y2="199.40" stroke="#90d090" stroke-width="0.8"/>
<line x1="299.90" y1="202.40" x2="303.10" y2="202.40" stroke="#90d090" stroke-width="0.8"/>
<line x1="322.70" y1="185.50" x2="322.70" y2="189.50" stroke="#90d090" stroke-width="0.8"/>
<line x1="321.10" y1="185.50" x2="324.30" y2="185.50" stroke="#90d090" stroke-width="0.8"/>
<line x1="321.10" y1="189.50" x2="324.30" y2="189.50" stroke="#90d090" stroke-width="0.8"/>
<line x1="339.13" y1="174.30" x2="339.13" y2="179.30" stroke="#90d090" stroke-width="0.8"/>
<line x1="337.53" y1="174.30" x2="340.73" y2="174.30" stroke="#90d090" stroke-width="0.8"/>
<line x1="337.53" y1="179.30" x2="340.73" y2="179.30" stroke="#90d090" stroke-width="0.8"/>
<line x1="360.86" y1="156.30" x2="360.86" y2="162.30" stroke="#90d090" stroke-width="0.8"/>
<line x1="359.26" y1="156.30" x2="362.46" y2="156.30" stroke="#90d090" stroke-width="0.8"/>
<line x1="359.26" y1="162.30" x2="362.46" y2="162.30" stroke="#90d090" stroke-width="0.8"/>
<polyline points="248.50,217.30 264.40,213.40 290.90,205.00 301.50,200.90 322.70,187.50 339.13,176.80 360.86,159.30" fill="none" stroke="#22b23c" stroke-width="1.3"/>
<circle cx="248.50" cy="217.30" r="2.1" fill="#22b23c"/>
<circle cx="264.40" cy="213.40" r="2.1" fill="#22b23c"/>
<circle cx="290.90" cy="205.00" r="2.1" fill="#22b23c"/>
<circle cx="301.50" cy="200.90" r="2.1" fill="#22b23c"/>
<circle cx="322.70" cy="187.50" r="2.1" fill="#22b23c"/>
<circle cx="339.13" cy="176.80" r="2.1" fill="#22b23c"/>
<circle cx="360.86" cy="159.30" r="2.1" fill="#22b23c"/>
<line x1="264.40" y1="212.60" x2="264.40" y2="214.60" stroke="#b090c8" stroke-width="0.8"/>
<line x1="262.80" y1="212.60" x2="266.00" y2="212.60" stroke="#b090c8" stroke-width="0.8"/>
<line x1="262.80" y1="214.60" x2="266.00" y2="214.60" stroke="#b090c8" stroke-width="0.8"/>
<line x1="290.90" y1="202.60" x2="290.90" y2="205.60" stroke="#b090c8" stroke-width="0.8"/>
<line x1="289.30" y1="202.60" x2="292.50" y2="202.60" stroke="#b090c8" stroke-width="0.8"/>
<line x1="289.30" y1="205.60" x2="292.50" y2="205.60" stroke="#b090c8" stroke-width="0.8"/>
<line x1="301.50" y1="197.20" x2="301.50" y2="201.20" stroke="#b090c8" stroke-width="0.8"/>
<line x1="299.90" y1="197.20" x2="303.10" y2="197.20" stroke="#b090c8" stroke-width="0.8"/>
<line x1="299.90" y1="201.20" x2="303.10" y2="201.20" stroke="#b090c8" stroke-width="0.8"/>
<line x1="322.70" y1="178.50" x2="322.70" y2="186.50" stroke="#b090c8" stroke-width="0.8"/>
<line x1="321.10" y1="178.50" x2="324.30" y2="178.50" stroke="#b090c8" stroke-width="0.8"/>
<line x1="321.10" y1="186.50" x2="324.30" y2="186.50" stroke="#b090c8" stroke-width="0.8"/>
<line x1="339.13" y1="167.30" x2="339.13" y2="177.30" stroke="#b090c8" stroke-width="0.8"/>
<line x1="337.53" y1="167.30" x2="340.73" y2="167.30" stroke="#b090c8" stroke-width="0.8"/>
<line x1="337.53" y1="177.30" x2="340.73" y2="177.30" stroke="#b090c8" stroke-width="0.8"/>
<line x1="360.86" y1="148.60" x2="360.86" y2="162.60" stroke="#b090c8" stroke-width="0.8"/>
<line x1="359.26" y1="148.60" x2="362.46" y2="148.60" stroke="#b090c8" stroke-width="0.8"/>
<line x1="359.26" y1="162.60" x2="362.46" y2="162.60" stroke="#b090c8" stroke-width="0.8"/>
<polyline points="248.50,217.50 264.40,213.60 290.90,204.10 301.50,199.20 322.70,182.50 339.13,172.30 360.86,155.60" fill="none" stroke="#8a3ab0" stroke-width="1.0"/>
<circle cx="248.50" cy="217.50" r="2.1" fill="#4e1470"/>
<circle cx="264.40" cy="213.60" r="2.1" fill="#4e1470"/>
<circle cx="290.90" cy="204.10" r="2.1" fill="#4e1470"/>
<circle cx="301.50" cy="199.20" r="2.1" fill="#4e1470"/>
<circle cx="322.70" cy="182.50" r="2.1" fill="#4e1470"/>
<circle cx="339.13" cy="172.30" r="2.1" fill="#4e1470"/>
<circle cx="360.86" cy="155.60" r="2.1" fill="#4e1470"/>
<line x1="264.40" y1="213.00" x2="264.40" y2="215.00" stroke="#888888" stroke-width="0.8"/>
<line x1="262.80" y1="213.00" x2="266.00" y2="213.00" stroke="#888888" stroke-width="0.8"/>
<line x1="262.80" y1="215.00" x2="266.00" y2="215.00" stroke="#888888" stroke-width="0.8"/>
<line x1="290.90" y1="205.00" x2="290.90" y2="207.00" stroke="#888888" stroke-width="0.8"/>
<line x1="289.30" y1="205.00" x2="292.50" y2="205.00" stroke="#888888" stroke-width="0.8"/>
<line x1="289.30" y1="207.00" x2="292.50" y2="207.00" stroke="#888888" stroke-width="0.8"/>
<line x1="301.50" y1="200.40" x2="301.50" y2="203.40" stroke="#888888" stroke-width="0.8"/>
<line x1="299.90" y1="200.40" x2="303.10" y2="200.40" stroke="#888888" stroke-width="0.8"/>
<line x1="299.90" y1="203.40" x2="303.10" y2="203.40" stroke="#888888" stroke-width="0.8"/>
<line x1="322.70" y1="186.30" x2="322.70" y2="190.70" stroke="#888888" stroke-width="0.8"/>
<line x1="321.10" y1="186.30" x2="324.30" y2="186.30" stroke="#888888" stroke-width="0.8"/>
<line x1="321.10" y1="190.70" x2="324.30" y2="190.70" stroke="#888888" stroke-width="0.8"/>
<line x1="339.13" y1="174.70" x2="339.13" y2="180.70" stroke="#888888" stroke-width="0.8"/>
<line x1="337.53" y1="174.70" x2="340.73" y2="174.70" stroke="#888888" stroke-width="0.8"/>
<line x1="337.53" y1="180.70" x2="340.73" y2="180.70" stroke="#888888" stroke-width="0.8"/>
<line x1="360.86" y1="154.80" x2="360.86" y2="165.60" stroke="#888888" stroke-width="0.8"/>
<line x1="359.26" y1="154.80" x2="362.46" y2="154.80" stroke="#888888" stroke-width="0.8"/>
<line x1="359.26" y1="165.60" x2="362.46" y2="165.60" stroke="#888888" stroke-width="0.8"/>
<polyline points="248.50,217.50 264.40,214.00 290.90,206.00 301.50,201.90 322.70,188.50 339.13,177.70 360.86,160.20" fill="none" stroke="#111111" stroke-width="1.3"/>
<circle cx="248.50" cy="217.50" r="2.1" fill="#111111"/>
<circle cx="264.40" cy="214.00" r="2.1" fill="#111111"/>
<circle cx="290.90" cy="206.00" r="2.1" fill="#111111"/>
<circle cx="301.50" cy="201.90" r="2.1" fill="#111111"/>
<circle cx="322.70" cy="188.50" r="2.1" fill="#111111"/>
<circle cx="339.13" cy="177.70" r="2.1" fill="#111111"/>
<circle cx="360.86" cy="160.20" r="2.1" fill="#111111"/>
<circle cx="366.80" cy="193.80" r="1.05" fill="#111"/>
<circle cx="366.80" cy="201.90" r="1.05" fill="#111"/>
<line x1="394.30" y1="150.00" x2="404.50" y2="150.00" stroke="#111111" stroke-width="1.3"/>
<circle cx="399.40" cy="150.00" r="1.9" fill="#111111"/>
<text x="408.90" y="152.25" font-size="7.5">Vehicle</text>
<line x1="394.30" y1="158.60" x2="404.50" y2="158.60" stroke="#22b23c" stroke-width="1.3"/>
<circle cx="399.40" cy="158.60" r="1.9" fill="#22b23c"/>
<text x="408.90" y="160.85" font-size="7.5">MRTX1719 50 mg/kg</text>
<line x1="394.30" y1="167.20" x2="404.50" y2="167.20" stroke="#7a2c9e" stroke-width="1.3"/>
<circle cx="399.40" cy="167.20" r="1.9" fill="#4e1470"/>
<text x="408.90" y="169.45" font-size="7.5">MRTX1719 100 mg/kg</text>
<line x1="394.30" y1="175.80" x2="404.50" y2="175.80" stroke="#b3b3b3" stroke-width="1.3"/>
<path d="M397.75,174.65 L401.05,174.65 L399.40,177.45 Z" fill="#b3b3b3"/>
<text x="408.90" y="178.05" font-size="7.5">GSK3326595 200 mg/kg</text>
<line x1="394.30" y1="184.40" x2="404.50" y2="184.40" stroke="#8a8a8a" stroke-width="1.3"/>
<path d="M398.20,182.90 L400.90,184.40 L398.20,185.90 Z" fill="#8a8a8a"/>
<text x="408.90" y="186.65" font-size="7.5">JNJ-64619178 10 mg/kg</text>
<text x="0.40" y="263.20" font-size="10" font-weight="bold" style="stroke:#000;stroke-width:0.4px" fill="#000">E</text>
<line x1="42.10" y1="259.40" x2="42.10" y2="363.30" stroke="#2a2a2a" stroke-width="1.25"/>
<line x1="39.10" y1="363.00" x2="42.10" y2="363.00" stroke="#2a2a2a" stroke-width="1.25"/>
<text x="36.60" y="365.68" font-size="7.3" text-anchor="end">0</text>
<line x1="39.10" y1="328.75" x2="42.10" y2="328.75" stroke="#2a2a2a" stroke-width="1.25"/>
<text x="36.60" y="331.43" font-size="7.3" text-anchor="end">50</text>
<line x1="39.10" y1="294.50" x2="42.10" y2="294.50" stroke="#2a2a2a" stroke-width="1.25"/>
<text x="36.60" y="297.18" font-size="7.3" text-anchor="end">100</text>
<line x1="39.10" y1="260.25" x2="42.10" y2="260.25" stroke="#2a2a2a" stroke-width="1.25"/>
<text x="36.60" y="262.93" font-size="7.3" text-anchor="end">150</text>
<text x="0" y="0" font-size="7.7" text-anchor="middle" transform="translate(8.70,307.70) rotate(-90) translate(0,2.32)">Normalized SDMA</text>
<text x="0" y="0" font-size="7.5" text-anchor="middle" transform="translate(17.40,312.60) rotate(-90) translate(0,2.25)">(% of <tspan font-style="italic">MTAP</tspan> WT vehicle control)</text>
<line x1="42.10" y1="363.00" x2="233.30" y2="363.00" stroke="#2a2a2a" stroke-width="1.25"/>
<line x1="53.75" y1="363.00" x2="53.75" y2="365.60" stroke="#2a2a2a" stroke-width="1.25"/>
<text x="53.75" y="373.19" font-size="6.5" text-anchor="middle">Veh</text>
<line x1="70.70" y1="363.00" x2="70.70" y2="365.60" stroke="#2a2a2a" stroke-width="1.25"/>
<text x="70.70" y="373.19" font-size="6.5" text-anchor="middle">50</text>
<line x1="88.70" y1="363.00" x2="88.70" y2="365.60" stroke="#2a2a2a" stroke-width="1.25"/>
<text x="88.70" y="373.19" font-size="6.5" text-anchor="middle">100</text>
<line x1="105.40" y1="363.00" x2="105.40" y2="365.60" stroke="#2a2a2a" stroke-width="1.25"/>
<text x="105.40" y="373.19" font-size="6.5" text-anchor="middle">200</text>
<line x1="123.10" y1="363.00" x2="123.10" y2="365.60" stroke="#2a2a2a" stroke-width="1.25"/>
<text x="123.10" y="373.19" font-size="6.5" text-anchor="middle">10</text>
<line x1="152.00" y1="363.00" x2="152.00" y2="365.60" stroke="#2a2a2a" stroke-width="1.25"/>
<text x="152.00" y="373.19" font-size="6.5" text-anchor="middle">Veh</text>
<line x1="169.20" y1="363.00" x2="169.20" y2="365.60" stroke="#2a2a2a" stroke-width="1.25"/>
<text x="169.20" y="373.19" font-size="6.5" text-anchor="middle">50</text>
<line x1="186.50" y1="363.00" x2="186.50" y2="365.60" stroke="#2a2a2a" stroke-width="1.25"/>
<text x="186.50" y="373.19" font-size="6.5" text-anchor="middle">100</text>
<line x1="203.80" y1="363.00" x2="203.80" y2="365.60" stroke="#2a2a2a" stroke-width="1.25"/>
<text x="203.80" y="373.19" font-size="6.5" text-anchor="middle">200</text>
<line x1="221.70" y1="363.00" x2="221.70" y2="365.60" stroke="#2a2a2a" stroke-width="1.25"/>
<text x="221.70" y="373.19" font-size="6.5" text-anchor="middle">10</text>
<line x1="62.30" y1="375.40" x2="94.80" y2="375.40" stroke="#2a2a2a" stroke-width="0.9"/>
<line x1="161.50" y1="375.40" x2="194.20" y2="375.40" stroke="#2a2a2a" stroke-width="0.9"/>
<text x="79.00" y="382.25" font-size="6.4" text-anchor="middle">MRTX1719</text>
<text x="177.80" y="382.25" font-size="6.4" text-anchor="middle">MRTX1719</text>
<text x="105.60" y="382.25" font-size="6.4" text-anchor="middle">GSK</text>
<text x="203.80" y="382.25" font-size="6.4" text-anchor="middle">GSK</text>
<text x="124.00" y="382.25" font-size="6.4" text-anchor="middle">JNJ</text>
<text x="221.70" y="382.25" font-size="6.4" text-anchor="middle">JNJ</text>
<text x="88.40" y="394.35" font-size="7.5" text-anchor="middle">HCT116 <tspan font-style="italic">MTAP</tspan> WT</text>
<text x="188.00" y="394.35" font-size="7.5" text-anchor="middle">HCT116 <tspan font-style="italic">MTAP</tspan> del</text>
<circle cx="53.50" cy="279.20" r="1.7" fill="#111111"/>
<circle cx="53.50" cy="293.30" r="1.7" fill="#111111"/>
<circle cx="53.50" cy="311.90" r="1.7" fill="#111111"/>
<line x1="46.20" y1="294.20" x2="61.20" y2="294.20" stroke="#222" stroke-width="1.0"/>
<line x1="53.50" y1="285.20" x2="53.50" y2="304.40" stroke="#333" stroke-width="0.9"/>
<line x1="51.30" y1="285.20" x2="55.70" y2="285.20" stroke="#333" stroke-width="0.9"/>
<line x1="51.30" y1="304.40" x2="55.70" y2="304.40" stroke="#333" stroke-width="0.9"/>
<line x1="71.20" y1="306.00" x2="71.20" y2="336.50" stroke="#aaaaaa" stroke-width="1.0"/>
<line x1="69.00" y1="306.00" x2="73.40" y2="306.00" stroke="#aaaaaa" stroke-width="1.0"/>
<line x1="69.00" y1="336.50" x2="73.40" y2="336.50" stroke="#aaaaaa" stroke-width="1.0"/>
<circle cx="71.20" cy="295.20" r="1.7" fill="#3cc85a"/>
<circle cx="71.20" cy="347.70" r="1.7" fill="#3cc85a"/>
<line x1="64.40" y1="321.50" x2="78.50" y2="321.50" stroke="#2a6a2a" stroke-width="1.0"/>
<circle cx="71.20" cy="321.50" r="0.9" fill="#2a6a2a"/>
<circle cx="84.50" cy="347.50" r="1.6" fill="#7a2c9e"/>
<circle cx="84.80" cy="350.80" r="1.6" fill="#7a2c9e"/>
<circle cx="88.30" cy="349.00" r="1.6" fill="#7a2c9e"/>
<circle cx="92.50" cy="348.80" r="1.6" fill="#7a2c9e"/>
<circle cx="91.00" cy="349.20" r="1.6" fill="#7a2c9e"/>
<line x1="83.00" y1="348.90" x2="94.00" y2="348.90" stroke="#555" stroke-width="1.0"/>
<circle cx="88.80" cy="340.80" r="1.05" fill="#111"/>
<circle cx="101.50" cy="360.20" r="1.3" fill="#bbbbbb"/>
<circle cx="104.50" cy="359.50" r="1.3" fill="#bbbbbb"/>
<circle cx="107.50" cy="360.30" r="1.3" fill="#bbbbbb"/>
<circle cx="110.00" cy="359.80" r="1.3" fill="#bbbbbb"/>
<line x1="99.50" y1="359.90" x2="112.00" y2="359.90" stroke="#666" stroke-width="0.9"/>
<circle cx="105.80" cy="351.60" r="1.05" fill="#111"/>
<circle cx="118.50" cy="361.30" r="1.3" fill="#aaaaaa"/>
<circle cx="121.50" cy="360.80" r="1.3" fill="#aaaaaa"/>
<circle cx="124.50" cy="361.00" r="1.3" fill="#aaaaaa"/>
<circle cx="127.00" cy="361.50" r="1.3" fill="#aaaaaa"/>
<line x1="117.00" y1="361.20" x2="129.00" y2="361.20" stroke="#666" stroke-width="0.9"/>
<circle cx="122.70" cy="354.60" r="1.05" fill="#111"/>
<circle cx="147.70" cy="348.50" r="1.7" fill="#111111"/>
<circle cx="156.30" cy="349.80" r="1.7" fill="#111111"/>
<circle cx="152.00" cy="356.20" r="1.7" fill="#111111"/>
<line x1="152.00" y1="347.60" x2="152.00" y2="354.80" stroke="#888" stroke-width="0.8"/>
<line x1="150.40" y1="347.60" x2="153.60" y2="347.60" stroke="#888" stroke-width="0.8"/>
<line x1="150.40" y1="354.80" x2="153.60" y2="354.80" stroke="#888" stroke-width="0.8"/>
<line x1="145.00" y1="351.20" x2="159.00" y2="351.20" stroke="#444" stroke-width="1.0"/>
<circle cx="164.50" cy="361.00" r="1.6" fill="#3cc85a"/>
<circle cx="167.50" cy="360.20" r="1.6" fill="#3cc85a"/>
<circle cx="170.50" cy="360.60" r="1.6" fill="#3cc85a"/>
<circle cx="173.50" cy="360.40" r="1.6" fill="#3cc85a"/>
<line x1="162.50" y1="360.60" x2="176.00" y2="360.60" stroke="#264" stroke-width="1.0"/>
<circle cx="169.20" cy="353.50" r="1.05" fill="#a03050"/>
<circle cx="181.50" cy="360.80" r="1.6" fill="#7a2c9e"/>
<circle cx="184.80" cy="360.30" r="1.6" fill="#7a2c9e"/>
<circle cx="188.00" cy="360.50" r="1.6" fill="#7a2c9e"/>
<circle cx="191.00" cy="360.80" r="1.6" fill="#7a2c9e"/>
<line x1="180.00" y1="360.60" x2="193.00" y2="360.60" stroke="#333" stroke-width="1.0"/>
<circle cx="186.50" cy="354.60" r="1.05" fill="#111"/>
<circle cx="199.30" cy="361.20" r="1.2" fill="#aaaaaa"/>
<circle cx="202.30" cy="361.20" r="1.2" fill="#aaaaaa"/>
<circle cx="205.30" cy="361.20" r="1.2" fill="#aaaaaa"/>
<circle cx="208.30" cy="361.20" r="1.2" fill="#aaaaaa"/>
<line x1="197.80" y1="361.20" x2="209.80" y2="361.20" stroke="#666" stroke-width="0.9"/>
<circle cx="203.80" cy="354.60" r="1.05" fill="#111"/>
<circle cx="217.20" cy="361.20" r="1.2" fill="#aaaaaa"/>
<circle cx="220.20" cy="361.20" r="1.2" fill="#aaaaaa"/>
<circle cx="223.20" cy="361.20" r="1.2" fill="#aaaaaa"/>
<circle cx="226.20" cy="361.20" r="1.2" fill="#aaaaaa"/>
<line x1="215.70" y1="361.20" x2="227.70" y2="361.20" stroke="#666" stroke-width="0.9"/>
<circle cx="221.70" cy="354.60" r="1.05" fill="#111"/>
<text x="260.00" y="263.00" font-size="10" font-weight="bold" style="stroke:#000;stroke-width:0.4px" fill="#000">H</text>
<text x="356.50" y="278.85" font-size="7.5" text-anchor="middle">Human cancer cell lines</text>
<text x="356.50" y="287.65" font-size="7.5" text-anchor="middle">HCT116 <tspan font-style="italic">MTAP</tspan> isogenic pair</text>
<text x="462.80" y="278.85" font-size="7.5" text-anchor="middle"><tspan font-style="italic">MTAP</tspan> WT human</text>
<text x="462.80" y="287.65" font-size="7.5" text-anchor="middle">hematopoietic cells</text>
<rect x="306.20" y="316.80" width="52.40" height="12.80" fill="#4ac35c"/>
<rect x="358.60" y="316.80" width="52.40" height="12.80" fill="#ee1c24"/>
<rect x="411.00" y="316.80" width="105.60" height="12.80" fill="#ee1c24"/>
<rect x="306.20" y="329.60" width="210.40" height="25.20" fill="#dadada"/>
<line x1="305.70" y1="292.30" x2="517.10" y2="292.30" stroke="#3c3c3c" stroke-width="1.0"/>
<line x1="305.70" y1="304.20" x2="517.10" y2="304.20" stroke="#3c3c3c" stroke-width="1.0"/>
<line x1="305.70" y1="316.80" x2="517.10" y2="316.80" stroke="#3c3c3c" stroke-width="1.0"/>
<line x1="305.70" y1="329.60" x2="517.10" y2="329.60" stroke="#3c3c3c" stroke-width="1.0"/>
<line x1="305.70" y1="342.30" x2="517.10" y2="342.30" stroke="#3c3c3c" stroke-width="1.0"/>
<line x1="305.70" y1="354.80" x2="517.10" y2="354.80" stroke="#3c3c3c" stroke-width="1.0"/>
<line x1="306.20" y1="292.30" x2="306.20" y2="354.80" stroke="#3c3c3c" stroke-width="1.0"/>
<line x1="516.60" y1="292.30" x2="516.60" y2="354.80" stroke="#3c3c3c" stroke-width="1.0"/>
<line x1="411.00" y1="266.50" x2="411.00" y2="354.80" stroke="#3c3c3c" stroke-width="1.0"/>
<line x1="358.60" y1="304.20" x2="358.60" y2="354.80" stroke="#3c3c3c" stroke-width="1.0"/>
<line x1="463.60" y1="304.20" x2="463.60" y2="354.80" stroke="#3c3c3c" stroke-width="1.0"/>
<text x="358.50" y="300.96" font-size="7.8" text-anchor="middle">10-Day viability IC<tspan font-size="5" dy="2">50</tspan><tspan dy="-2"> (nmol/L)</tspan></text>
<text x="463.80" y="300.96" font-size="7.8" text-anchor="middle">7-Day HemaTox IC<tspan font-size="5" dy="2">50</tspan><tspan dy="-2"> (nmol/L)</tspan></text>
<text x="332.30" y="313.12" font-size="7.7" text-anchor="middle"><tspan font-style="italic">MTAP</tspan> del</text>
<text x="385.00" y="313.12" font-size="7.7" text-anchor="middle"><tspan font-style="italic">MTAP</tspan> WT</text>
<text x="437.30" y="313.12" font-size="7.7" text-anchor="middle">Erythroid</text>
<text x="490.00" y="313.12" font-size="7.7" text-anchor="middle">Myeloid</text>
<text x="332.30" y="326.05" font-size="7.5" text-anchor="middle" fill="#0a2a0a">12</text>
<text x="385.00" y="326.05" font-size="7.5" text-anchor="middle" fill="#6a0a0a">890</text>
<text x="437.30" y="326.05" font-size="7.5" text-anchor="middle" fill="#6a0a0a">545</text>
<text x="490.00" y="326.05" font-size="7.5" text-anchor="middle" fill="#6a0a0a">559</text>
<text x="332.30" y="338.75" font-size="7.5" text-anchor="middle">164</text>
<text x="385.00" y="338.75" font-size="7.5" text-anchor="middle">200</text>
<text x="437.30" y="338.75" font-size="7.5" text-anchor="middle">62</text>
<text x="490.00" y="338.75" font-size="7.5" text-anchor="middle">58</text>
<text x="332.30" y="351.35" font-size="7.5" text-anchor="middle">5</text>
<text x="385.00" y="351.35" font-size="7.5" text-anchor="middle">5</text>
<text x="437.30" y="351.35" font-size="7.5" text-anchor="middle">3</text>
<text x="490.00" y="351.35" font-size="7.5" text-anchor="middle">2</text>
<text x="303.60" y="326.05" font-size="7.5" text-anchor="end">MRTX1719</text>
<text x="303.60" y="338.75" font-size="7.5" text-anchor="end">GSK3326595</text>
<text x="303.60" y="351.35" font-size="7.5" text-anchor="end">JNJ-64619178</text>
<text x="1.50" y="412.50" font-size="10" font-weight="bold" style="stroke:#000;stroke-width:0.4px" fill="#000">F</text>
<line x1="41.90" y1="411.80" x2="41.90" y2="432.00" stroke="#2a2a2a" stroke-width="1.25"/>
<line x1="41.90" y1="438.20" x2="41.90" y2="500.20" stroke="#2a2a2a" stroke-width="1.25"/>
<line x1="39.90" y1="432.00" x2="43.90" y2="432.00" stroke="#2a2a2a" stroke-width="1.1"/>
<line x1="39.90" y1="438.20" x2="43.90" y2="438.20" stroke="#2a2a2a" stroke-width="1.1"/>
<line x1="38.90" y1="499.80" x2="41.90" y2="499.80" stroke="#2a2a2a" stroke-width="1.25"/>
<text x="37.60" y="501.67" font-size="7.7" text-anchor="end">0.0</text>
<line x1="38.90" y1="482.30" x2="41.90" y2="482.30" stroke="#2a2a2a" stroke-width="1.25"/>
<text x="37.60" y="484.17" font-size="7.7" text-anchor="end">0.5</text>
<line x1="38.90" y1="464.80" x2="41.90" y2="464.80" stroke="#2a2a2a" stroke-width="1.25"/>
<text x="37.60" y="466.67" font-size="7.7" text-anchor="end">1.0</text>
<line x1="38.90" y1="447.30" x2="41.90" y2="447.30" stroke="#2a2a2a" stroke-width="1.25"/>
<text x="37.60" y="449.17" font-size="7.7" text-anchor="end">1.5</text>
<line x1="38.90" y1="418.30" x2="41.90" y2="418.30" stroke="#2a2a2a" stroke-width="1.25"/>
<text x="37.60" y="420.17" font-size="7.7" text-anchor="end">3.0</text>
<text x="37.60" y="433.67" font-size="7.7" text-anchor="end">2.5</text>
<text x="0" y="0" font-size="7.7" text-anchor="middle" transform="translate(17.00,455.60) rotate(-90) translate(0,2.32)">Normalized SDMA</text>
<line x1="41.90" y1="499.80" x2="175.40" y2="499.80" stroke="#2a2a2a" stroke-width="1.25"/>
<text x="107.80" y="412.25" font-size="7.5" text-anchor="middle">Tumor SDMA</text>
<line x1="44.00" y1="504.20" x2="74.80" y2="504.20" stroke="#555" stroke-width="1.0"/>
<text x="59.60" y="512.38" font-size="7.3" text-anchor="middle">1</text>
<line x1="84.40" y1="504.20" x2="108.70" y2="504.20" stroke="#555" stroke-width="1.0"/>
<text x="96.00" y="512.38" font-size="7.3" text-anchor="middle">2</text>
<line x1="116.50" y1="504.20" x2="143.70" y2="504.20" stroke="#555" stroke-width="1.0"/>
<text x="128.90" y="512.38" font-size="7.3" text-anchor="middle">4</text>
<line x1="149.00" y1="504.20" x2="174.60" y2="504.20" stroke="#555" stroke-width="1.0"/>
<text x="161.70" y="512.38" font-size="7.3" text-anchor="middle">6</text>
<text x="110.00" y="520.45" font-size="7.5" text-anchor="middle">Week</text>
<line x1="47.20" y1="457.80" x2="47.20" y2="471.20" stroke="#333" stroke-width="0.9"/>
<line x1="45.20" y1="457.80" x2="49.20" y2="457.80" stroke="#333" stroke-width="0.9"/>
<line x1="45.20" y1="471.20" x2="49.20" y2="471.20" stroke="#333" stroke-width="0.9"/>
<circle cx="47.20" cy="446.70" r="1.7" fill="#111111"/>
<circle cx="47.20" cy="450.30" r="1.7" fill="#111111"/>
<circle cx="47.20" cy="453.80" r="1.7" fill="#111111"/>
<circle cx="47.20" cy="469.00" r="1.7" fill="#111111"/>
<circle cx="47.20" cy="481.00" r="1.7" fill="#111111"/>
<circle cx="47.20" cy="487.30" r="1.7" fill="#111111"/>
<line x1="43.80" y1="464.60" x2="50.80" y2="464.60" stroke="#222" stroke-width="1.0"/>
<line x1="79.80" y1="450.60" x2="79.80" y2="480.20" stroke="#999" stroke-width="0.9"/>
<line x1="77.80" y1="450.60" x2="81.80" y2="450.60" stroke="#999" stroke-width="0.9"/>
<line x1="77.80" y1="480.20" x2="81.80" y2="480.20" stroke="#999" stroke-width="0.9"/>
<circle cx="79.80" cy="418.30" r="1.7" fill="#111111"/>
<circle cx="79.80" cy="471.20" r="1.7" fill="#111111"/>
<circle cx="79.80" cy="473.90" r="1.7" fill="#111111"/>
<circle cx="79.80" cy="477.50" r="1.7" fill="#111111"/>
<circle cx="79.80" cy="482.50" r="1.7" fill="#111111"/>
<circle cx="79.80" cy="484.70" r="1.7" fill="#111111"/>
<line x1="76.40" y1="464.60" x2="83.40" y2="464.60" stroke="#222" stroke-width="1.0"/>
<line x1="112.40" y1="460.00" x2="112.40" y2="469.50" stroke="#333" stroke-width="0.9"/>
<line x1="110.40" y1="460.00" x2="114.40" y2="460.00" stroke="#333" stroke-width="0.9"/>
<line x1="110.40" y1="469.50" x2="114.40" y2="469.50" stroke="#333" stroke-width="0.9"/>
<circle cx="112.40" cy="446.50" r="1.7" fill="#111111"/>
<circle cx="112.40" cy="457.50" r="1.7" fill="#111111"/>
<circle cx="112.40" cy="461.00" r="1.7" fill="#111111"/>
<circle cx="112.40" cy="467.00" r="1.7" fill="#111111"/>
<circle cx="112.40" cy="474.20" r="1.7" fill="#111111"/>
<circle cx="112.40" cy="483.80" r="1.7" fill="#111111"/>
<line x1="109.00" y1="464.60" x2="116.00" y2="464.60" stroke="#222" stroke-width="1.0"/>
<line x1="145.20" y1="460.00" x2="145.20" y2="469.50" stroke="#333" stroke-width="0.9"/>
<line x1="143.20" y1="460.00" x2="147.20" y2="460.00" stroke="#333" stroke-width="0.9"/>
<line x1="143.20" y1="469.50" x2="147.20" y2="469.50" stroke="#333" stroke-width="0.9"/>
<circle cx="145.20" cy="446.50" r="1.7" fill="#111111"/>
<circle cx="145.20" cy="457.50" r="1.7" fill="#111111"/>
<circle cx="145.20" cy="461.00" r="1.7" fill="#111111"/>
<circle cx="145.20" cy="467.00" r="1.7" fill="#111111"/>
<circle cx="145.20" cy="474.20" r="1.7" fill="#111111"/>
<circle cx="145.20" cy="483.80" r="1.7" fill="#111111"/>
<line x1="141.80" y1="464.60" x2="148.80" y2="464.60" stroke="#222" stroke-width="1.0"/>
<circle cx="54.00" cy="497.50" r="1.6" fill="#1a26cc"/>
<circle cx="55.50" cy="496.50" r="1.6" fill="#1a26cc"/>
<circle cx="57.00" cy="497.80" r="1.6" fill="#1a26cc"/>
<circle cx="56.00" cy="498.50" r="1.6" fill="#1a26cc"/>
<circle cx="62.20" cy="497.80" r="1.6" fill="#5a1f7e"/>
<circle cx="63.70" cy="497.00" r="1.6" fill="#5a1f7e"/>
<circle cx="65.20" cy="498.00" r="1.6" fill="#5a1f7e"/>
<circle cx="70.40" cy="498.50" r="1.2" fill="#aaaaaa"/>
<circle cx="72.40" cy="498.00" r="1.2" fill="#aaaaaa"/>
<circle cx="73.40" cy="498.60" r="1.2" fill="#aaaaaa"/>
<line x1="68.70" y1="497.80" x2="75.20" y2="497.80" stroke="#444" stroke-width="0.9"/>
<circle cx="55.50" cy="490.00" r="1.05" fill="#111"/>
<circle cx="63.70" cy="490.00" r="1.05" fill="#111"/>
<circle cx="71.90" cy="490.00" r="1.05" fill="#111"/>
<circle cx="119.20" cy="497.50" r="1.6" fill="#1a26cc"/>
<circle cx="120.70" cy="496.50" r="1.6" fill="#1a26cc"/>
<circle cx="122.20" cy="497.80" r="1.6" fill="#1a26cc"/>
<circle cx="121.20" cy="498.50" r="1.6" fill="#1a26cc"/>
<circle cx="127.40" cy="497.80" r="1.6" fill="#5a1f7e"/>
<circle cx="128.90" cy="497.00" r="1.6" fill="#5a1f7e"/>
<circle cx="130.40" cy="498.00" r="1.6" fill="#5a1f7e"/>
<circle cx="135.60" cy="498.50" r="1.2" fill="#aaaaaa"/>
<circle cx="137.60" cy="498.00" r="1.2" fill="#aaaaaa"/>
<circle cx="138.60" cy="498.60" r="1.2" fill="#aaaaaa"/>
<line x1="133.90" y1="497.80" x2="140.40" y2="497.80" stroke="#444" stroke-width="0.9"/>
<circle cx="120.70" cy="490.00" r="1.05" fill="#111"/>
<circle cx="128.90" cy="490.00" r="1.05" fill="#111"/>
<circle cx="137.10" cy="490.00" r="1.05" fill="#111"/>
<circle cx="152.00" cy="497.50" r="1.6" fill="#1a26cc"/>
<circle cx="153.50" cy="496.50" r="1.6" fill="#1a26cc"/>
<circle cx="155.00" cy="497.80" r="1.6" fill="#1a26cc"/>
<circle cx="154.00" cy="498.50" r="1.6" fill="#1a26cc"/>
<circle cx="160.20" cy="497.80" r="1.6" fill="#5a1f7e"/>
<circle cx="161.70" cy="497.00" r="1.6" fill="#5a1f7e"/>
<circle cx="163.20" cy="498.00" r="1.6" fill="#5a1f7e"/>
<circle cx="168.40" cy="498.50" r="1.2" fill="#aaaaaa"/>
<circle cx="170.40" cy="498.00" r="1.2" fill="#aaaaaa"/>
<circle cx="171.40" cy="498.60" r="1.2" fill="#aaaaaa"/>
<line x1="166.70" y1="497.80" x2="173.20" y2="497.80" stroke="#444" stroke-width="0.9"/>
<circle cx="153.50" cy="490.00" r="1.05" fill="#111"/>
<circle cx="161.70" cy="490.00" r="1.05" fill="#111"/>
<circle cx="169.90" cy="490.00" r="1.05" fill="#111"/>
<circle cx="87.00" cy="497.80" r="1.6" fill="#1a26cc"/>
<circle cx="88.60" cy="496.20" r="1.6" fill="#1a26cc"/>
<circle cx="87.40" cy="494.20" r="1.6" fill="#1a26cc"/>
<circle cx="89.00" cy="493.80" r="1.6" fill="#1a26cc"/>
<circle cx="88.00" cy="498.20" r="1.6" fill="#1a26cc"/>
<circle cx="86.60" cy="495.50" r="1.6" fill="#1a26cc"/>
<circle cx="95.80" cy="486.20" r="1.7" fill="#5a1f7e"/>
<circle cx="96.60" cy="495.20" r="1.5" fill="#5a1f7e"/>
<circle cx="95.80" cy="497.60" r="1.5" fill="#5a1f7e"/>
<circle cx="96.90" cy="494.20" r="1.5" fill="#5a1f7e"/>
<circle cx="95.50" cy="498.40" r="1.5" fill="#5a1f7e"/>
<line x1="95.90" y1="488.40" x2="95.90" y2="496.00" stroke="#666" stroke-width="0.8"/>
<line x1="94.50" y1="488.40" x2="97.30" y2="488.40" stroke="#666" stroke-width="0.8"/>
<line x1="94.50" y1="496.00" x2="97.30" y2="496.00" stroke="#666" stroke-width="0.8"/>
<line x1="93.00" y1="493.10" x2="99.60" y2="493.10" stroke="#333" stroke-width="1.0"/>
<circle cx="104.20" cy="486.50" r="1.5" fill="#b0b0b0"/>
<line x1="104.20" y1="488.50" x2="104.20" y2="495.40" stroke="#888" stroke-width="0.9"/>
<line x1="102.70" y1="488.50" x2="105.70" y2="488.50" stroke="#888" stroke-width="0.9"/>
<line x1="102.70" y1="495.40" x2="105.70" y2="495.40" stroke="#888" stroke-width="0.9"/>
<line x1="101.20" y1="492.90" x2="107.70" y2="492.90" stroke="#666" stroke-width="1.0"/>
<circle cx="104.20" cy="495.50" r="1.1" fill="#aaaaaa"/>
<circle cx="104.60" cy="491.00" r="1.1" fill="#aaaaaa"/>
<text x="259.40" y="412.60" font-size="10" font-weight="bold" style="stroke:#000;stroke-width:0.4px" fill="#000">G</text>
<line x1="293.80" y1="410.90" x2="293.80" y2="431.60" stroke="#2a2a2a" stroke-width="1.25"/>
<line x1="293.80" y1="438.40" x2="293.80" y2="500.40" stroke="#2a2a2a" stroke-width="1.25"/>
<line x1="291.80" y1="431.60" x2="295.80" y2="431.60" stroke="#2a2a2a" stroke-width="1.1"/>
<line x1="291.80" y1="438.40" x2="295.80" y2="438.40" stroke="#2a2a2a" stroke-width="1.1"/>
<line x1="290.80" y1="500.00" x2="293.80" y2="500.00" stroke="#2a2a2a" stroke-width="1.25"/>
<text x="289.30" y="501.87" font-size="7.7" text-anchor="end">0.0</text>
<line x1="290.80" y1="482.25" x2="293.80" y2="482.25" stroke="#2a2a2a" stroke-width="1.25"/>
<text x="289.30" y="484.12" font-size="7.7" text-anchor="end">0.5</text>
<line x1="290.80" y1="464.50" x2="293.80" y2="464.50" stroke="#2a2a2a" stroke-width="1.25"/>
<text x="289.30" y="466.37" font-size="7.7" text-anchor="end">1.0</text>
<line x1="290.80" y1="446.75" x2="293.80" y2="446.75" stroke="#2a2a2a" stroke-width="1.25"/>
<text x="289.30" y="448.62" font-size="7.7" text-anchor="end">1.5</text>
<line x1="290.80" y1="417.90" x2="293.80" y2="417.90" stroke="#2a2a2a" stroke-width="1.25"/>
<text x="289.30" y="419.77" font-size="7.7" text-anchor="end">3.0</text>
<text x="289.30" y="433.77" font-size="7.7" text-anchor="end">2.5</text>
<text x="0" y="0" font-size="7.7" text-anchor="middle" transform="translate(268.30,455.50) rotate(-90) translate(0,2.32)">Normalized SDMA</text>
<line x1="293.80" y1="500.00" x2="427.00" y2="500.00" stroke="#2a2a2a" stroke-width="1.25"/>
<text x="358.60" y="409.45" font-size="7.5" text-anchor="middle">Bone marrow SDMA</text>
<line x1="295.20" y1="504.20" x2="326.70" y2="504.20" stroke="#555" stroke-width="1.0"/>
<text x="310.60" y="513.18" font-size="7.3" text-anchor="middle">1</text>
<line x1="335.60" y1="504.20" x2="360.40" y2="504.20" stroke="#555" stroke-width="1.0"/>
<text x="347.50" y="513.18" font-size="7.3" text-anchor="middle">2</text>
<line x1="368.50" y1="504.20" x2="391.60" y2="504.20" stroke="#555" stroke-width="1.0"/>
<text x="379.80" y="513.18" font-size="7.3" text-anchor="middle">4</text>
<line x1="401.20" y1="504.20" x2="423.40" y2="504.20" stroke="#555" stroke-width="1.0"/>
<text x="412.70" y="513.18" font-size="7.3" text-anchor="middle">6</text>
<text x="359.90" y="521.45" font-size="7.5" text-anchor="middle">Week</text>
<circle cx="299.00" cy="451.00" r="1.7" fill="#111111"/>
<circle cx="299.00" cy="454.80" r="1.7" fill="#111111"/>
<circle cx="299.00" cy="459.10" r="1.7" fill="#111111"/>
<circle cx="299.00" cy="463.70" r="1.7" fill="#111111"/>
<circle cx="299.00" cy="470.90" r="1.7" fill="#111111"/>
<circle cx="299.00" cy="483.90" r="1.7" fill="#111111"/>
<line x1="295.50" y1="464.50" x2="302.50" y2="464.50" stroke="#888" stroke-width="0.9"/>
<circle cx="307.10" cy="477.10" r="1.7" fill="#1a26cc"/>
<circle cx="307.10" cy="481.70" r="1.7" fill="#1a26cc"/>
<circle cx="307.10" cy="487.90" r="1.7" fill="#1a26cc"/>
<circle cx="307.10" cy="494.10" r="1.7" fill="#1a26cc"/>
<line x1="307.10" y1="480.50" x2="307.10" y2="492.00" stroke="#777" stroke-width="0.8"/>
<line x1="305.60" y1="480.50" x2="308.60" y2="480.50" stroke="#777" stroke-width="0.8"/>
<line x1="305.60" y1="492.00" x2="308.60" y2="492.00" stroke="#777" stroke-width="0.8"/>
<line x1="304.00" y1="486.50" x2="310.20" y2="486.50" stroke="#666" stroke-width="0.8"/>
<circle cx="307.10" cy="471.20" r="1.05" fill="#1c2bd6"/>
<circle cx="315.70" cy="491.90" r="1.7" fill="#5a1f7e"/>
<circle cx="314.40" cy="494.60" r="1.7" fill="#5a1f7e"/>
<circle cx="316.00" cy="496.00" r="1.7" fill="#5a1f7e"/>
<circle cx="315.20" cy="486.50" r="1.05" fill="#7a2c9e"/>
<circle cx="323.20" cy="499.30" r="1.3" fill="#aaaaaa"/>
<line x1="320.50" y1="499.00" x2="326.00" y2="499.00" stroke="#777" stroke-width="0.8"/>
<circle cx="323.20" cy="493.30" r="1.05" fill="#111"/>
<circle cx="331.30" cy="451.00" r="1.7" fill="#111111"/>
<circle cx="331.30" cy="454.80" r="1.7" fill="#111111"/>
<circle cx="331.30" cy="459.10" r="1.7" fill="#111111"/>
<circle cx="331.30" cy="463.70" r="1.7" fill="#111111"/>
<circle cx="331.30" cy="470.90" r="1.7" fill="#111111"/>
<circle cx="331.30" cy="483.90" r="1.7" fill="#111111"/>
<line x1="327.80" y1="464.50" x2="334.80" y2="464.50" stroke="#888" stroke-width="0.9"/>
<circle cx="339.90" cy="485.20" r="1.7" fill="#1a26cc"/>
<circle cx="338.80" cy="490.60" r="1.7" fill="#1a26cc"/>
<circle cx="340.20" cy="492.50" r="1.7" fill="#1a26cc"/>
<circle cx="339.40" cy="478.50" r="1.05" fill="#111"/>
<circle cx="347.50" cy="479.30" r="1.7" fill="#5a1f7e"/>
<circle cx="349.10" cy="481.20" r="1.7" fill="#5a1f7e"/>
<circle cx="348.30" cy="487.90" r="1.7" fill="#5a1f7e"/>
<line x1="345.20" y1="482.50" x2="351.40" y2="482.50" stroke="#666" stroke-width="0.8"/>
<circle cx="356.40" cy="499.50" r="1.3" fill="#aaaaaa"/>
<line x1="353.60" y1="499.20" x2="359.20" y2="499.20" stroke="#777" stroke-width="0.8"/>
<circle cx="356.40" cy="493.30" r="1.05" fill="#111"/>
<line x1="364.40" y1="452.90" x2="364.40" y2="475.80" stroke="#999" stroke-width="0.9"/>
<line x1="362.60" y1="452.90" x2="366.20" y2="452.90" stroke="#999" stroke-width="0.9"/>
<line x1="362.60" y1="475.80" x2="366.20" y2="475.80" stroke="#999" stroke-width="0.9"/>
<circle cx="364.40" cy="427.30" r="1.7" fill="#111111"/>
<circle cx="364.40" cy="467.20" r="1.7" fill="#111111"/>
<circle cx="364.40" cy="474.40" r="1.7" fill="#111111"/>
<circle cx="363.60" cy="477.10" r="1.7" fill="#111111"/>
<circle cx="365.00" cy="479.80" r="1.7" fill="#111111"/>
<circle cx="364.10" cy="480.60" r="1.7" fill="#111111"/>
<line x1="360.90" y1="464.50" x2="367.90" y2="464.50" stroke="#888" stroke-width="0.9"/>
<circle cx="371.70" cy="477.90" r="1.7" fill="#1a26cc"/>
<circle cx="373.30" cy="481.70" r="1.7" fill="#1a26cc"/>
<circle cx="372.50" cy="486.50" r="1.7" fill="#1a26cc"/>
<line x1="369.50" y1="481.50" x2="375.50" y2="481.50" stroke="#666" stroke-width="0.8"/>
<circle cx="381.10" cy="478.50" r="1.7" fill="#5a1f7e"/>
<circle cx="380.30" cy="482.50" r="1.7" fill="#5a1f7e"/>
<circle cx="381.90" cy="482.50" r="1.7" fill="#5a1f7e"/>
<line x1="378.10" y1="482.00" x2="384.10" y2="482.00" stroke="#666" stroke-width="0.8"/>
<circle cx="388.70" cy="487.50" r="1.3" fill="#aaaaaa"/>
<circle cx="388.70" cy="491.00" r="1.3" fill="#aaaaaa"/>
<circle cx="388.70" cy="494.50" r="1.3" fill="#aaaaaa"/>
<line x1="388.70" y1="487.00" x2="388.70" y2="496.00" stroke="#777" stroke-width="0.8"/>
<line x1="387.20" y1="487.00" x2="390.20" y2="487.00" stroke="#777" stroke-width="0.8"/>
<line x1="387.20" y1="496.00" x2="390.20" y2="496.00" stroke="#777" stroke-width="0.8"/>
<line x1="386.00" y1="492.00" x2="391.40" y2="492.00" stroke="#555" stroke-width="0.8"/>
<line x1="396.70" y1="452.60" x2="396.70" y2="480.00" stroke="#999" stroke-width="0.9"/>
<line x1="394.90" y1="452.60" x2="398.50" y2="452.60" stroke="#999" stroke-width="0.9"/>
<line x1="394.90" y1="480.00" x2="398.50" y2="480.00" stroke="#999" stroke-width="0.9"/>
<circle cx="396.70" cy="427.20" r="1.7" fill="#111111"/>
<circle cx="396.70" cy="467.30" r="1.7" fill="#111111"/>
<circle cx="396.70" cy="475.80" r="1.7" fill="#111111"/>
<circle cx="395.90" cy="477.60" r="1.7" fill="#111111"/>
<circle cx="397.30" cy="479.30" r="1.7" fill="#111111"/>
<circle cx="396.40" cy="480.10" r="1.7" fill="#111111"/>
<line x1="393.20" y1="465.00" x2="400.20" y2="465.00" stroke="#888" stroke-width="0.9"/>
<circle cx="404.90" cy="454.40" r="1.7" fill="#1a26cc"/>
<circle cx="404.90" cy="469.80" r="1.7" fill="#1a26cc"/>
<circle cx="404.90" cy="475.80" r="1.7" fill="#1a26cc"/>
<line x1="404.90" y1="460.40" x2="404.90" y2="472.00" stroke="#888" stroke-width="0.8"/>
<line x1="403.30" y1="460.40" x2="406.50" y2="460.40" stroke="#888" stroke-width="0.8"/>
<line x1="403.30" y1="472.00" x2="406.50" y2="472.00" stroke="#888" stroke-width="0.8"/>
<line x1="401.80" y1="466.40" x2="408.00" y2="466.40" stroke="#777" stroke-width="0.8"/>
<circle cx="411.60" cy="478.40" r="1.7" fill="#5a1f7e"/>
<circle cx="412.80" cy="481.00" r="1.7" fill="#5a1f7e"/>
<circle cx="412.10" cy="490.10" r="1.7" fill="#5a1f7e"/>
<line x1="412.10" y1="479.00" x2="412.10" y2="487.00" stroke="#777" stroke-width="0.8"/>
<line x1="410.60" y1="479.00" x2="413.60" y2="479.00" stroke="#777" stroke-width="0.8"/>
<line x1="410.60" y1="487.00" x2="413.60" y2="487.00" stroke="#777" stroke-width="0.8"/>
<line x1="409.20" y1="483.20" x2="415.00" y2="483.20" stroke="#666" stroke-width="0.8"/>
<circle cx="420.60" cy="499.00" r="1.2" fill="#aaaaaa"/>
<line x1="417.80" y1="498.80" x2="423.40" y2="498.80" stroke="#777" stroke-width="0.8"/>
<text x="409.60" y="473.75" font-size="7.5">52%</text>
<text x="418.10" y="494.25" font-size="7.5">99%</text>
<circle cx="431.20" cy="415.40" r="1.6" fill="#111111"/>
<text x="436.30" y="417.65" font-size="7.5">Vehicle week 1</text>
<circle cx="431.20" cy="425.47" r="1.6" fill="#1a26cc"/>
<text x="436.30" y="427.72" font-size="7.5">MRTX1719 25 mg/kg</text>
<circle cx="431.20" cy="435.54" r="1.6" fill="#5a1f7e"/>
<text x="436.30" y="437.79" font-size="7.5">MRTX1719 100 mg/kg</text>
<circle cx="431.20" cy="445.61" r="1.6" fill="#aaaaaa"/>
<text x="436.30" y="447.86" font-size="7.5">GSK3326595 200 mg/kg</text>
</svg>
</body></html>
